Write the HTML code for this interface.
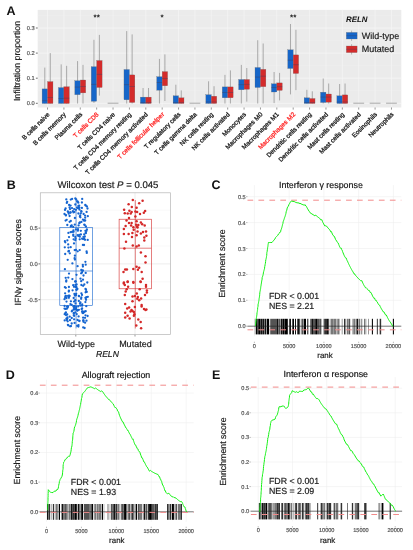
<!DOCTYPE html>
<html><head><meta charset="utf-8"><style>
html,body{margin:0;padding:0;background:#fff;}
svg{display:block;will-change:transform;text-rendering:geometricPrecision;}
text{font-family:"Liberation Sans", sans-serif;font-variant-ligatures:none;font-feature-settings:"liga" 0;}
</style></head><body>
<svg width="413" height="550" viewBox="0 0 413 550" style='font-family:"Liberation Sans", sans-serif'>
<rect x="37.7" y="9.9" width="363.60" height="97.60" fill="#ebebeb"/>
<line x1="37.7" x2="401.3" y1="90.75" y2="90.75" stroke="#f1f1f1" stroke-width="0.5"/>
<line x1="37.7" x2="401.3" y1="65.65" y2="65.65" stroke="#f1f1f1" stroke-width="0.5"/>
<line x1="37.7" x2="401.3" y1="40.55" y2="40.55" stroke="#f1f1f1" stroke-width="0.5"/>
<line x1="37.7" x2="401.3" y1="15.45" y2="15.45" stroke="#f1f1f1" stroke-width="0.5"/>
<line x1="37.7" x2="401.3" y1="103.30" y2="103.30" stroke="#f8f8f8" stroke-width="0.7"/>
<line x1="37.7" x2="401.3" y1="78.20" y2="78.20" stroke="#f8f8f8" stroke-width="0.7"/>
<line x1="37.7" x2="401.3" y1="53.10" y2="53.10" stroke="#f8f8f8" stroke-width="0.7"/>
<line x1="37.7" x2="401.3" y1="28.00" y2="28.00" stroke="#f8f8f8" stroke-width="0.7"/>
<line x1="47.53" x2="47.53" y1="9.9" y2="107.5" stroke="#f6f6f6" stroke-width="0.6"/>
<line x1="63.91" x2="63.91" y1="9.9" y2="107.5" stroke="#f6f6f6" stroke-width="0.6"/>
<line x1="80.28" x2="80.28" y1="9.9" y2="107.5" stroke="#f6f6f6" stroke-width="0.6"/>
<line x1="96.66" x2="96.66" y1="9.9" y2="107.5" stroke="#f6f6f6" stroke-width="0.6"/>
<line x1="113.04" x2="113.04" y1="9.9" y2="107.5" stroke="#f6f6f6" stroke-width="0.6"/>
<line x1="129.42" x2="129.42" y1="9.9" y2="107.5" stroke="#f6f6f6" stroke-width="0.6"/>
<line x1="145.80" x2="145.80" y1="9.9" y2="107.5" stroke="#f6f6f6" stroke-width="0.6"/>
<line x1="162.18" x2="162.18" y1="9.9" y2="107.5" stroke="#f6f6f6" stroke-width="0.6"/>
<line x1="178.55" x2="178.55" y1="9.9" y2="107.5" stroke="#f6f6f6" stroke-width="0.6"/>
<line x1="194.93" x2="194.93" y1="9.9" y2="107.5" stroke="#f6f6f6" stroke-width="0.6"/>
<line x1="211.31" x2="211.31" y1="9.9" y2="107.5" stroke="#f6f6f6" stroke-width="0.6"/>
<line x1="227.69" x2="227.69" y1="9.9" y2="107.5" stroke="#f6f6f6" stroke-width="0.6"/>
<line x1="244.07" x2="244.07" y1="9.9" y2="107.5" stroke="#f6f6f6" stroke-width="0.6"/>
<line x1="260.45" x2="260.45" y1="9.9" y2="107.5" stroke="#f6f6f6" stroke-width="0.6"/>
<line x1="276.82" x2="276.82" y1="9.9" y2="107.5" stroke="#f6f6f6" stroke-width="0.6"/>
<line x1="293.20" x2="293.20" y1="9.9" y2="107.5" stroke="#f6f6f6" stroke-width="0.6"/>
<line x1="309.58" x2="309.58" y1="9.9" y2="107.5" stroke="#f6f6f6" stroke-width="0.6"/>
<line x1="325.96" x2="325.96" y1="9.9" y2="107.5" stroke="#f6f6f6" stroke-width="0.6"/>
<line x1="342.34" x2="342.34" y1="9.9" y2="107.5" stroke="#f6f6f6" stroke-width="0.6"/>
<line x1="358.72" x2="358.72" y1="9.9" y2="107.5" stroke="#f6f6f6" stroke-width="0.6"/>
<line x1="375.09" x2="375.09" y1="9.9" y2="107.5" stroke="#f6f6f6" stroke-width="0.6"/>
<line x1="391.47" x2="391.47" y1="9.9" y2="107.5" stroke="#f6f6f6" stroke-width="0.6"/>
<line x1="35.9" x2="37.7" y1="103.30" y2="103.30" stroke="#333" stroke-width="0.7"/>
<text x="34.7" y="105.30" font-size="5.7" fill="#555555" text-anchor="end" stroke="#555555" stroke-width="0.18">0.0</text>
<line x1="35.9" x2="37.7" y1="78.20" y2="78.20" stroke="#333" stroke-width="0.7"/>
<text x="34.7" y="80.20" font-size="5.7" fill="#555555" text-anchor="end" stroke="#555555" stroke-width="0.18">0.1</text>
<line x1="35.9" x2="37.7" y1="53.10" y2="53.10" stroke="#333" stroke-width="0.7"/>
<text x="34.7" y="55.10" font-size="5.7" fill="#555555" text-anchor="end" stroke="#555555" stroke-width="0.18">0.2</text>
<line x1="35.9" x2="37.7" y1="28.00" y2="28.00" stroke="#333" stroke-width="0.7"/>
<text x="34.7" y="30.00" font-size="5.7" fill="#555555" text-anchor="end" stroke="#555555" stroke-width="0.18">0.3</text>
<text transform="translate(20.4,61) rotate(-90)" font-size="8.8" fill="#1a1a1a" text-anchor="middle" stroke="#1a1a1a" stroke-width="0.18">Infiltration proportion</text>
<line x1="44.80" x2="44.80" y1="67.6" y2="103.5" stroke="#8c8c8c" stroke-width="0.7"/>
<rect x="42.08" y="88.9" width="5.45" height="14.60" fill="#1666c9" stroke="#6a6a6a" stroke-width="0.25"/>
<line x1="42.08" x2="47.53" y1="100.7" y2="100.7" stroke="#404060" stroke-opacity="0.6" stroke-width="0.7"/>
<line x1="50.25" x2="50.25" y1="53.1" y2="103.5" stroke="#8c8c8c" stroke-width="0.7"/>
<rect x="47.53" y="81.6" width="5.45" height="21.90" fill="#d42b2b" stroke="#6a6a6a" stroke-width="0.25"/>
<line x1="47.53" x2="52.98" y1="97.5" y2="97.5" stroke="#404060" stroke-opacity="0.6" stroke-width="0.7"/>
<line x1="61.18" x2="61.18" y1="64.4" y2="103.5" stroke="#8c8c8c" stroke-width="0.7"/>
<rect x="58.46" y="87.6" width="5.45" height="15.90" fill="#1666c9" stroke="#6a6a6a" stroke-width="0.25"/>
<line x1="58.46" x2="63.91" y1="98.5" y2="98.5" stroke="#404060" stroke-opacity="0.6" stroke-width="0.7"/>
<line x1="66.63" x2="66.63" y1="65.8" y2="103.5" stroke="#8c8c8c" stroke-width="0.7"/>
<rect x="63.91" y="86.7" width="5.45" height="16.80" fill="#d42b2b" stroke="#6a6a6a" stroke-width="0.25"/>
<line x1="63.91" x2="69.36" y1="98.2" y2="98.2" stroke="#404060" stroke-opacity="0.6" stroke-width="0.7"/>
<line x1="77.56" x2="77.56" y1="61.1" y2="103.5" stroke="#8c8c8c" stroke-width="0.7"/>
<rect x="74.83" y="80.7" width="5.45" height="14.00" fill="#1666c9" stroke="#6a6a6a" stroke-width="0.25"/>
<line x1="74.83" x2="80.28" y1="87.1" y2="87.1" stroke="#404060" stroke-opacity="0.6" stroke-width="0.7"/>
<line x1="83.01" x2="83.01" y1="64.9" y2="103.5" stroke="#8c8c8c" stroke-width="0.7"/>
<rect x="80.28" y="80.0" width="5.45" height="12.90" fill="#d42b2b" stroke="#6a6a6a" stroke-width="0.25"/>
<line x1="80.28" x2="85.73" y1="86.5" y2="86.5" stroke="#404060" stroke-opacity="0.6" stroke-width="0.7"/>
<line x1="93.94" x2="93.94" y1="39.8" y2="102.9" stroke="#8c8c8c" stroke-width="0.7"/>
<rect x="91.21" y="66.7" width="5.45" height="34.60" fill="#1666c9" stroke="#6a6a6a" stroke-width="0.25"/>
<line x1="91.21" x2="96.66" y1="84.4" y2="84.4" stroke="#404060" stroke-opacity="0.6" stroke-width="0.7"/>
<line x1="99.39" x2="99.39" y1="34.9" y2="95.6" stroke="#8c8c8c" stroke-width="0.7"/>
<rect x="96.66" y="60.5" width="5.45" height="27.00" fill="#d42b2b" stroke="#6a6a6a" stroke-width="0.25"/>
<line x1="96.66" x2="102.11" y1="74.4" y2="74.4" stroke="#404060" stroke-opacity="0.6" stroke-width="0.7"/>
<line x1="107.64" x2="118.44" y1="103.2" y2="103.2" stroke="#8a8a8a" stroke-width="0.7"/>
<line x1="126.69" x2="126.69" y1="31.1" y2="103.5" stroke="#8c8c8c" stroke-width="0.7"/>
<rect x="123.97" y="69.5" width="5.45" height="30.30" fill="#1666c9" stroke="#6a6a6a" stroke-width="0.25"/>
<line x1="123.97" x2="129.42" y1="84.7" y2="84.7" stroke="#404060" stroke-opacity="0.6" stroke-width="0.7"/>
<line x1="132.14" x2="132.14" y1="34.4" y2="103.5" stroke="#8c8c8c" stroke-width="0.7"/>
<rect x="129.42" y="74.9" width="5.45" height="27.60" fill="#d42b2b" stroke="#6a6a6a" stroke-width="0.25"/>
<line x1="129.42" x2="134.87" y1="86.5" y2="86.5" stroke="#404060" stroke-opacity="0.6" stroke-width="0.7"/>
<line x1="143.07" x2="143.07" y1="88" y2="103.5" stroke="#8c8c8c" stroke-width="0.7"/>
<rect x="140.35" y="97.1" width="5.45" height="6.40" fill="#1666c9" stroke="#6a6a6a" stroke-width="0.25"/>
<line x1="140.35" x2="145.80" y1="102.5" y2="102.5" stroke="#404060" stroke-opacity="0.6" stroke-width="0.7"/>
<line x1="148.52" x2="148.52" y1="88" y2="103.5" stroke="#8c8c8c" stroke-width="0.7"/>
<rect x="145.80" y="97.1" width="5.45" height="6.40" fill="#d42b2b" stroke="#6a6a6a" stroke-width="0.25"/>
<line x1="145.80" x2="151.25" y1="102.5" y2="102.5" stroke="#404060" stroke-opacity="0.6" stroke-width="0.7"/>
<line x1="159.45" x2="159.45" y1="58.9" y2="103.5" stroke="#8c8c8c" stroke-width="0.7"/>
<rect x="156.73" y="76.7" width="5.45" height="13.50" fill="#1666c9" stroke="#6a6a6a" stroke-width="0.25"/>
<line x1="156.73" x2="162.18" y1="82.5" y2="82.5" stroke="#404060" stroke-opacity="0.6" stroke-width="0.7"/>
<line x1="164.90" x2="164.90" y1="54.4" y2="101" stroke="#8c8c8c" stroke-width="0.7"/>
<rect x="162.18" y="71.6" width="5.45" height="14.20" fill="#d42b2b" stroke="#6a6a6a" stroke-width="0.25"/>
<line x1="162.18" x2="167.63" y1="78.5" y2="78.5" stroke="#404060" stroke-opacity="0.6" stroke-width="0.7"/>
<line x1="175.83" x2="175.83" y1="84.7" y2="103.5" stroke="#8c8c8c" stroke-width="0.7"/>
<rect x="173.10" y="95.8" width="5.45" height="7.70" fill="#1666c9" stroke="#6a6a6a" stroke-width="0.25"/>
<line x1="173.10" x2="178.55" y1="102.5" y2="102.5" stroke="#404060" stroke-opacity="0.6" stroke-width="0.7"/>
<line x1="181.28" x2="181.28" y1="90.4" y2="103.5" stroke="#8c8c8c" stroke-width="0.7"/>
<rect x="178.55" y="97.8" width="5.45" height="5.70" fill="#d42b2b" stroke="#6a6a6a" stroke-width="0.25"/>
<line x1="178.55" x2="184.00" y1="102.5" y2="102.5" stroke="#404060" stroke-opacity="0.6" stroke-width="0.7"/>
<line x1="189.53" x2="200.33" y1="103.2" y2="103.2" stroke="#8a8a8a" stroke-width="0.7"/>
<line x1="208.59" x2="208.59" y1="81.3" y2="103.5" stroke="#8c8c8c" stroke-width="0.7"/>
<rect x="205.86" y="94.7" width="5.45" height="8.80" fill="#1666c9" stroke="#6a6a6a" stroke-width="0.25"/>
<line x1="205.86" x2="211.31" y1="102" y2="102" stroke="#404060" stroke-opacity="0.6" stroke-width="0.7"/>
<line x1="214.04" x2="214.04" y1="86.2" y2="103.5" stroke="#8c8c8c" stroke-width="0.7"/>
<rect x="211.31" y="96.2" width="5.45" height="7.30" fill="#d42b2b" stroke="#6a6a6a" stroke-width="0.25"/>
<line x1="211.31" x2="216.76" y1="102" y2="102" stroke="#404060" stroke-opacity="0.6" stroke-width="0.7"/>
<line x1="224.96" x2="224.96" y1="74.9" y2="103.5" stroke="#8c8c8c" stroke-width="0.7"/>
<rect x="222.24" y="86.9" width="5.45" height="10.90" fill="#1666c9" stroke="#6a6a6a" stroke-width="0.25"/>
<line x1="222.24" x2="227.69" y1="92.5" y2="92.5" stroke="#404060" stroke-opacity="0.6" stroke-width="0.7"/>
<line x1="230.41" x2="230.41" y1="70.4" y2="103.5" stroke="#8c8c8c" stroke-width="0.7"/>
<rect x="227.69" y="86.9" width="5.45" height="10.90" fill="#d42b2b" stroke="#6a6a6a" stroke-width="0.25"/>
<line x1="227.69" x2="233.14" y1="92.5" y2="92.5" stroke="#404060" stroke-opacity="0.6" stroke-width="0.7"/>
<line x1="241.34" x2="241.34" y1="64.9" y2="103.5" stroke="#8c8c8c" stroke-width="0.7"/>
<rect x="238.62" y="79.5" width="5.45" height="10.30" fill="#1666c9" stroke="#6a6a6a" stroke-width="0.25"/>
<line x1="238.62" x2="244.07" y1="84.7" y2="84.7" stroke="#404060" stroke-opacity="0.6" stroke-width="0.7"/>
<line x1="246.79" x2="246.79" y1="68" y2="101.6" stroke="#8c8c8c" stroke-width="0.7"/>
<rect x="244.07" y="79.5" width="5.45" height="9.80" fill="#d42b2b" stroke="#6a6a6a" stroke-width="0.25"/>
<line x1="244.07" x2="249.52" y1="84.4" y2="84.4" stroke="#404060" stroke-opacity="0.6" stroke-width="0.7"/>
<line x1="257.72" x2="257.72" y1="40.2" y2="103.5" stroke="#8c8c8c" stroke-width="0.7"/>
<rect x="255.00" y="67.5" width="5.45" height="20.00" fill="#1666c9" stroke="#6a6a6a" stroke-width="0.25"/>
<line x1="255.00" x2="260.45" y1="77.1" y2="77.1" stroke="#404060" stroke-opacity="0.6" stroke-width="0.7"/>
<line x1="263.17" x2="263.17" y1="43.5" y2="103.5" stroke="#8c8c8c" stroke-width="0.7"/>
<rect x="260.45" y="69.3" width="5.45" height="17.40" fill="#d42b2b" stroke="#6a6a6a" stroke-width="0.25"/>
<line x1="260.45" x2="265.90" y1="76.2" y2="76.2" stroke="#404060" stroke-opacity="0.6" stroke-width="0.7"/>
<line x1="274.10" x2="274.10" y1="72" y2="103.1" stroke="#8c8c8c" stroke-width="0.7"/>
<rect x="271.37" y="83.8" width="5.45" height="8.20" fill="#1666c9" stroke="#6a6a6a" stroke-width="0.25"/>
<line x1="271.37" x2="276.82" y1="87.5" y2="87.5" stroke="#404060" stroke-opacity="0.6" stroke-width="0.7"/>
<line x1="279.55" x2="279.55" y1="72.9" y2="100.4" stroke="#8c8c8c" stroke-width="0.7"/>
<rect x="276.82" y="82.9" width="5.45" height="7.50" fill="#d42b2b" stroke="#6a6a6a" stroke-width="0.25"/>
<line x1="276.82" x2="282.27" y1="86.7" y2="86.7" stroke="#404060" stroke-opacity="0.6" stroke-width="0.7"/>
<line x1="290.48" x2="290.48" y1="24" y2="94.4" stroke="#8c8c8c" stroke-width="0.7"/>
<rect x="287.75" y="49.8" width="5.45" height="18.70" fill="#1666c9" stroke="#6a6a6a" stroke-width="0.25"/>
<line x1="287.75" x2="293.20" y1="60.2" y2="60.2" stroke="#404060" stroke-opacity="0.6" stroke-width="0.7"/>
<line x1="295.93" x2="295.93" y1="29.8" y2="90.2" stroke="#8c8c8c" stroke-width="0.7"/>
<rect x="293.20" y="54.9" width="5.45" height="18.60" fill="#d42b2b" stroke="#6a6a6a" stroke-width="0.25"/>
<line x1="293.20" x2="298.65" y1="64.7" y2="64.7" stroke="#404060" stroke-opacity="0.6" stroke-width="0.7"/>
<line x1="306.86" x2="306.86" y1="89.8" y2="103.5" stroke="#8c8c8c" stroke-width="0.7"/>
<rect x="304.13" y="97.8" width="5.45" height="5.70" fill="#1666c9" stroke="#6a6a6a" stroke-width="0.25"/>
<line x1="304.13" x2="309.58" y1="102.5" y2="102.5" stroke="#404060" stroke-opacity="0.6" stroke-width="0.7"/>
<line x1="312.31" x2="312.31" y1="91.3" y2="103.5" stroke="#8c8c8c" stroke-width="0.7"/>
<rect x="309.58" y="98.5" width="5.45" height="5.00" fill="#d42b2b" stroke="#6a6a6a" stroke-width="0.25"/>
<line x1="309.58" x2="315.03" y1="102.5" y2="102.5" stroke="#404060" stroke-opacity="0.6" stroke-width="0.7"/>
<line x1="323.23" x2="323.23" y1="78.5" y2="103.5" stroke="#8c8c8c" stroke-width="0.7"/>
<rect x="320.51" y="92.2" width="5.45" height="10.30" fill="#1666c9" stroke="#6a6a6a" stroke-width="0.25"/>
<line x1="320.51" x2="325.96" y1="97.1" y2="97.1" stroke="#404060" stroke-opacity="0.6" stroke-width="0.7"/>
<line x1="328.68" x2="328.68" y1="83.5" y2="103.5" stroke="#8c8c8c" stroke-width="0.7"/>
<rect x="325.96" y="94" width="5.45" height="8.20" fill="#d42b2b" stroke="#6a6a6a" stroke-width="0.25"/>
<line x1="325.96" x2="331.41" y1="97.1" y2="97.1" stroke="#404060" stroke-opacity="0.6" stroke-width="0.7"/>
<line x1="339.61" x2="339.61" y1="84" y2="103.5" stroke="#8c8c8c" stroke-width="0.7"/>
<rect x="336.89" y="95.8" width="5.45" height="7.70" fill="#1666c9" stroke="#6a6a6a" stroke-width="0.25"/>
<line x1="336.89" x2="342.34" y1="102" y2="102" stroke="#404060" stroke-opacity="0.6" stroke-width="0.7"/>
<line x1="345.06" x2="345.06" y1="83.5" y2="103.5" stroke="#8c8c8c" stroke-width="0.7"/>
<rect x="342.34" y="94.9" width="5.45" height="8.60" fill="#d42b2b" stroke="#6a6a6a" stroke-width="0.25"/>
<line x1="342.34" x2="347.79" y1="102" y2="102" stroke="#404060" stroke-opacity="0.6" stroke-width="0.7"/>
<line x1="353.32" x2="364.12" y1="103.2" y2="103.2" stroke="#8a8a8a" stroke-width="0.7"/>
<line x1="369.69" x2="380.49" y1="103.2" y2="103.2" stroke="#8a8a8a" stroke-width="0.7"/>
<line x1="386.07" x2="396.87" y1="103.2" y2="103.2" stroke="#8a8a8a" stroke-width="0.7"/>
<text x="96.66" y="20.3" font-size="8" font-weight="bold" fill="#1a1a1a" text-anchor="middle">**</text>
<text x="162.18" y="20.3" font-size="8" font-weight="bold" fill="#1a1a1a" text-anchor="middle">*</text>
<text x="293.20" y="20.3" font-size="8" font-weight="bold" fill="#1a1a1a" text-anchor="middle">**</text>
<text x="346.0" y="21.8" font-size="7.9" font-weight="bold" font-style="italic" fill="#111">RELN</text>
<line x1="351.6" x2="351.6" y1="30.599999999999998" y2="40.9" stroke="#8c8c8c" stroke-width="0.6"/>
<rect x="346.3" y="32.4" width="10.8" height="6.6" fill="#1666c9" stroke="#6a6a6a" stroke-width="0.25"/>
<line x1="346.3" x2="357.1" y1="35.699999999999996" y2="35.699999999999996" stroke="#404060" stroke-opacity="0.6" stroke-width="0.6"/>
<text x="361.7" y="38.60" font-size="9" fill="#1a1a1a" stroke="#1a1a1a" stroke-width="0.18">Wild-type</text>
<line x1="351.6" x2="351.6" y1="44.2" y2="54.5" stroke="#8c8c8c" stroke-width="0.6"/>
<rect x="346.3" y="46.0" width="10.8" height="6.6" fill="#d42b2b" stroke="#6a6a6a" stroke-width="0.25"/>
<line x1="346.3" x2="357.1" y1="49.3" y2="49.3" stroke="#404060" stroke-opacity="0.6" stroke-width="0.6"/>
<text x="361.7" y="52.20" font-size="9" fill="#1a1a1a" stroke="#1a1a1a" stroke-width="0.18">Mutated</text>
<line x1="47.53" x2="47.53" y1="107.5" y2="109.6" stroke="#333" stroke-width="0.5"/>
<text transform="translate(46.73,111.6) rotate(-45)" font-size="6.4" fill="#1a1a1a" stroke="#1a1a1a" stroke-width="0.28" text-anchor="end" dy="4.6">B cells naive</text>
<line x1="63.91" x2="63.91" y1="107.5" y2="109.6" stroke="#333" stroke-width="0.5"/>
<text transform="translate(63.11,111.6) rotate(-45)" font-size="6.4" fill="#1a1a1a" stroke="#1a1a1a" stroke-width="0.28" text-anchor="end" dy="4.6">B cells memory</text>
<line x1="80.28" x2="80.28" y1="107.5" y2="109.6" stroke="#333" stroke-width="0.5"/>
<text transform="translate(79.48,111.6) rotate(-45)" font-size="6.4" fill="#1a1a1a" stroke="#1a1a1a" stroke-width="0.28" text-anchor="end" dy="4.6">Plasma cells</text>
<line x1="96.66" x2="96.66" y1="107.5" y2="109.6" stroke="#333" stroke-width="0.5"/>
<text transform="translate(95.86,111.6) rotate(-45)" font-size="6.4" fill="#ff2a2a" stroke="#ff2a2a" stroke-width="0.28" text-anchor="end" dy="4.6">T cells CD8</text>
<line x1="113.04" x2="113.04" y1="107.5" y2="109.6" stroke="#333" stroke-width="0.5"/>
<text transform="translate(112.24,111.6) rotate(-45)" font-size="6.4" fill="#1a1a1a" stroke="#1a1a1a" stroke-width="0.28" text-anchor="end" dy="4.6">T cells CD4 naive</text>
<line x1="129.42" x2="129.42" y1="107.5" y2="109.6" stroke="#333" stroke-width="0.5"/>
<text transform="translate(128.62,111.6) rotate(-45)" font-size="6.4" fill="#1a1a1a" stroke="#1a1a1a" stroke-width="0.28" text-anchor="end" dy="4.6">T cells CD4 memory resting</text>
<line x1="145.80" x2="145.80" y1="107.5" y2="109.6" stroke="#333" stroke-width="0.5"/>
<text transform="translate(145.00,111.6) rotate(-45)" font-size="6.4" fill="#1a1a1a" stroke="#1a1a1a" stroke-width="0.28" text-anchor="end" dy="4.6">T cells CD4 memory activated</text>
<line x1="162.18" x2="162.18" y1="107.5" y2="109.6" stroke="#333" stroke-width="0.5"/>
<text transform="translate(161.38,111.6) rotate(-45)" font-size="6.4" fill="#ff2a2a" stroke="#ff2a2a" stroke-width="0.28" text-anchor="end" dy="4.6">T cells follicular helper</text>
<line x1="178.55" x2="178.55" y1="107.5" y2="109.6" stroke="#333" stroke-width="0.5"/>
<text transform="translate(177.75,111.6) rotate(-45)" font-size="6.4" fill="#1a1a1a" stroke="#1a1a1a" stroke-width="0.28" text-anchor="end" dy="4.6">T regulatory cells</text>
<line x1="194.93" x2="194.93" y1="107.5" y2="109.6" stroke="#333" stroke-width="0.5"/>
<text transform="translate(194.13,111.6) rotate(-45)" font-size="6.4" fill="#1a1a1a" stroke="#1a1a1a" stroke-width="0.28" text-anchor="end" dy="4.6">T cells gamma delta</text>
<line x1="211.31" x2="211.31" y1="107.5" y2="109.6" stroke="#333" stroke-width="0.5"/>
<text transform="translate(210.51,111.6) rotate(-45)" font-size="6.4" fill="#1a1a1a" stroke="#1a1a1a" stroke-width="0.28" text-anchor="end" dy="4.6">NK cells resting</text>
<line x1="227.69" x2="227.69" y1="107.5" y2="109.6" stroke="#333" stroke-width="0.5"/>
<text transform="translate(226.89,111.6) rotate(-45)" font-size="6.4" fill="#1a1a1a" stroke="#1a1a1a" stroke-width="0.28" text-anchor="end" dy="4.6">NK cells activated</text>
<line x1="244.07" x2="244.07" y1="107.5" y2="109.6" stroke="#333" stroke-width="0.5"/>
<text transform="translate(243.27,111.6) rotate(-45)" font-size="6.4" fill="#1a1a1a" stroke="#1a1a1a" stroke-width="0.28" text-anchor="end" dy="4.6">Monocytes</text>
<line x1="260.45" x2="260.45" y1="107.5" y2="109.6" stroke="#333" stroke-width="0.5"/>
<text transform="translate(259.65,111.6) rotate(-45)" font-size="6.4" fill="#1a1a1a" stroke="#1a1a1a" stroke-width="0.28" text-anchor="end" dy="4.6">Macrophages M0</text>
<line x1="276.82" x2="276.82" y1="107.5" y2="109.6" stroke="#333" stroke-width="0.5"/>
<text transform="translate(276.02,111.6) rotate(-45)" font-size="6.4" fill="#1a1a1a" stroke="#1a1a1a" stroke-width="0.28" text-anchor="end" dy="4.6">Macrophages M1</text>
<line x1="293.20" x2="293.20" y1="107.5" y2="109.6" stroke="#333" stroke-width="0.5"/>
<text transform="translate(292.40,111.6) rotate(-45)" font-size="6.4" fill="#ff2a2a" stroke="#ff2a2a" stroke-width="0.28" text-anchor="end" dy="4.6">Macrophages M2</text>
<line x1="309.58" x2="309.58" y1="107.5" y2="109.6" stroke="#333" stroke-width="0.5"/>
<text transform="translate(308.78,111.6) rotate(-45)" font-size="6.4" fill="#1a1a1a" stroke="#1a1a1a" stroke-width="0.28" text-anchor="end" dy="4.6">Dendritic cells resting</text>
<line x1="325.96" x2="325.96" y1="107.5" y2="109.6" stroke="#333" stroke-width="0.5"/>
<text transform="translate(325.16,111.6) rotate(-45)" font-size="6.4" fill="#1a1a1a" stroke="#1a1a1a" stroke-width="0.28" text-anchor="end" dy="4.6">Dendritic cells activated</text>
<line x1="342.34" x2="342.34" y1="107.5" y2="109.6" stroke="#333" stroke-width="0.5"/>
<text transform="translate(341.54,111.6) rotate(-45)" font-size="6.4" fill="#1a1a1a" stroke="#1a1a1a" stroke-width="0.28" text-anchor="end" dy="4.6">Mast cells resting</text>
<line x1="358.72" x2="358.72" y1="107.5" y2="109.6" stroke="#333" stroke-width="0.5"/>
<text transform="translate(357.92,111.6) rotate(-45)" font-size="6.4" fill="#1a1a1a" stroke="#1a1a1a" stroke-width="0.28" text-anchor="end" dy="4.6">Mast cells activated</text>
<line x1="375.09" x2="375.09" y1="107.5" y2="109.6" stroke="#333" stroke-width="0.5"/>
<text transform="translate(374.29,111.6) rotate(-45)" font-size="6.4" fill="#1a1a1a" stroke="#1a1a1a" stroke-width="0.28" text-anchor="end" dy="4.6">Eosinophils</text>
<line x1="391.47" x2="391.47" y1="107.5" y2="109.6" stroke="#333" stroke-width="0.5"/>
<text transform="translate(390.67,111.6) rotate(-45)" font-size="6.4" fill="#1a1a1a" stroke="#1a1a1a" stroke-width="0.28" text-anchor="end" dy="4.6">Neutrophils</text>
<text x="6.8" y="189.2" font-size="12.5" font-weight="bold" fill="#111">B</text>
<text x="57.4" y="188.1" font-size="9.6" fill="#1a1a1a" stroke="#1a1a1a" stroke-width="0.18">Wilcoxon test <tspan font-style="italic">P</tspan> = 0.045</text>
<rect x="40.3" y="192.8" width="130.20" height="141.80" fill="#fff"/>
<line x1="40.3" x2="170.5" y1="210.20" y2="210.20" stroke="#f2f2f2" stroke-width="0.5"/>
<line x1="40.3" x2="170.5" y1="246.00" y2="246.00" stroke="#f2f2f2" stroke-width="0.5"/>
<line x1="40.3" x2="170.5" y1="281.80" y2="281.80" stroke="#f2f2f2" stroke-width="0.5"/>
<line x1="40.3" x2="170.5" y1="317.60" y2="317.60" stroke="#f2f2f2" stroke-width="0.5"/>
<line x1="40.3" x2="170.5" y1="228.10" y2="228.10" stroke="#ebebeb" stroke-width="0.9"/>
<line x1="40.3" x2="170.5" y1="263.90" y2="263.90" stroke="#ebebeb" stroke-width="0.9"/>
<line x1="40.3" x2="170.5" y1="299.70" y2="299.70" stroke="#ebebeb" stroke-width="0.9"/>
<line x1="75.8" x2="75.8" y1="192.8" y2="334.6" stroke="#ebebeb" stroke-width="0.9"/>
<line x1="135.0" x2="135.0" y1="192.8" y2="334.6" stroke="#ebebeb" stroke-width="0.9"/>
<line x1="38.5" x2="40.3" y1="228.10" y2="228.10" stroke="#333" stroke-width="0.7"/>
<text x="37.7" y="230.10" font-size="5.8" fill="#555555" text-anchor="end" stroke="#555555" stroke-width="0.18">0.5</text>
<line x1="38.5" x2="40.3" y1="263.90" y2="263.90" stroke="#333" stroke-width="0.7"/>
<text x="37.7" y="265.90" font-size="5.8" fill="#555555" text-anchor="end" stroke="#555555" stroke-width="0.18">0.0</text>
<line x1="38.5" x2="40.3" y1="299.70" y2="299.70" stroke="#333" stroke-width="0.7"/>
<text x="37.7" y="301.70" font-size="5.8" fill="#555555" text-anchor="end" stroke="#555555" stroke-width="0.18">-0.5</text>
<line x1="75.8" x2="75.8" y1="334.6" y2="336.5" stroke="#333" stroke-width="0.5"/>
<line x1="135.0" x2="135.0" y1="334.6" y2="336.5" stroke="#333" stroke-width="0.5"/>
<text x="76.2" y="346.6" font-size="9" fill="#1a1a1a" text-anchor="middle" stroke="#1a1a1a" stroke-width="0.18">Wild-type</text>
<text x="135.4" y="346.6" font-size="9" fill="#1a1a1a" text-anchor="middle" stroke="#1a1a1a" stroke-width="0.18">Mutated</text>
<text x="107.4" y="356.7" font-size="8.6" font-style="italic" fill="#1a1a1a" text-anchor="middle" stroke="#1a1a1a" stroke-width="0.18">RELN</text>
<text transform="translate(20.6,262.3) rotate(-90)" font-size="8.9" fill="#1a1a1a" text-anchor="middle" stroke="#1a1a1a" stroke-width="0.18">IFNγ signature scores</text>
<line x1="76.1" x2="76.1" y1="198.6" y2="328.4" stroke="#1565d0" stroke-width="0.6"/>
<rect x="59.8" y="227.6" width="32.8" height="77.80" fill="none" stroke="#1565d0" stroke-width="0.6"/>
<line x1="59.8" x2="92.6" y1="271" y2="271" stroke="#1565d0" stroke-width="0.6"/>
<line x1="135.3" x2="135.3" y1="200.0" y2="328.5" stroke="#d42828" stroke-width="0.6"/>
<rect x="119.1" y="219.2" width="32.2" height="69.60" fill="none" stroke="#d42828" stroke-width="0.6"/>
<line x1="119.1" x2="151.3" y1="248.2" y2="248.2" stroke="#d42828" stroke-width="0.6"/>
<circle cx="77.2" cy="201.3" r="1.15" fill="#1565d0"/>
<circle cx="75.3" cy="204.5" r="1.15" fill="#1565d0"/>
<circle cx="77.7" cy="201.7" r="1.15" fill="#1565d0"/>
<circle cx="76.2" cy="199.5" r="1.15" fill="#1565d0"/>
<circle cx="81.9" cy="202.5" r="1.15" fill="#1565d0"/>
<circle cx="72.1" cy="198.9" r="1.15" fill="#1565d0"/>
<circle cx="82.2" cy="198.9" r="1.15" fill="#1565d0"/>
<circle cx="66.8" cy="202.9" r="1.15" fill="#1565d0"/>
<circle cx="85.3" cy="204.9" r="1.15" fill="#1565d0"/>
<circle cx="78.3" cy="202.7" r="1.15" fill="#1565d0"/>
<circle cx="66.3" cy="199.4" r="1.15" fill="#1565d0"/>
<circle cx="67.2" cy="201.8" r="1.15" fill="#1565d0"/>
<circle cx="70.8" cy="199.6" r="1.15" fill="#1565d0"/>
<circle cx="75.3" cy="198.5" r="1.15" fill="#1565d0"/>
<circle cx="84.1" cy="220.4" r="1.15" fill="#1565d0"/>
<circle cx="79.3" cy="223.2" r="1.15" fill="#1565d0"/>
<circle cx="79.8" cy="222.5" r="1.15" fill="#1565d0"/>
<circle cx="70.8" cy="221.0" r="1.15" fill="#1565d0"/>
<circle cx="87.7" cy="239.9" r="1.15" fill="#1565d0"/>
<circle cx="80.9" cy="234.4" r="1.15" fill="#1565d0"/>
<circle cx="69.6" cy="216.0" r="1.15" fill="#1565d0"/>
<circle cx="65.9" cy="215.1" r="1.15" fill="#1565d0"/>
<circle cx="73.6" cy="231.8" r="1.15" fill="#1565d0"/>
<circle cx="73.3" cy="234.6" r="1.15" fill="#1565d0"/>
<circle cx="84.2" cy="238.5" r="1.15" fill="#1565d0"/>
<circle cx="69.1" cy="205.0" r="1.15" fill="#1565d0"/>
<circle cx="75.3" cy="236.9" r="1.15" fill="#1565d0"/>
<circle cx="73.6" cy="239.3" r="1.15" fill="#1565d0"/>
<circle cx="79.1" cy="207.6" r="1.15" fill="#1565d0"/>
<circle cx="70.6" cy="232.2" r="1.15" fill="#1565d0"/>
<circle cx="72.0" cy="208.1" r="1.15" fill="#1565d0"/>
<circle cx="82.1" cy="238.7" r="1.15" fill="#1565d0"/>
<circle cx="70.0" cy="209.1" r="1.15" fill="#1565d0"/>
<circle cx="65.6" cy="208.5" r="1.15" fill="#1565d0"/>
<circle cx="68.4" cy="232.9" r="1.15" fill="#1565d0"/>
<circle cx="74.8" cy="224.6" r="1.15" fill="#1565d0"/>
<circle cx="81.5" cy="211.7" r="1.15" fill="#1565d0"/>
<circle cx="79.4" cy="209.6" r="1.15" fill="#1565d0"/>
<circle cx="74.1" cy="209.1" r="1.15" fill="#1565d0"/>
<circle cx="70.6" cy="212.5" r="1.15" fill="#1565d0"/>
<circle cx="83.2" cy="239.0" r="1.15" fill="#1565d0"/>
<circle cx="85.1" cy="215.6" r="1.15" fill="#1565d0"/>
<circle cx="73.5" cy="212.4" r="1.15" fill="#1565d0"/>
<circle cx="79.3" cy="234.9" r="1.15" fill="#1565d0"/>
<circle cx="87.5" cy="208.5" r="1.15" fill="#1565d0"/>
<circle cx="70.3" cy="212.5" r="1.15" fill="#1565d0"/>
<circle cx="72.0" cy="232.0" r="1.15" fill="#1565d0"/>
<circle cx="65.9" cy="215.4" r="1.15" fill="#1565d0"/>
<circle cx="78.0" cy="208.2" r="1.15" fill="#1565d0"/>
<circle cx="78.4" cy="213.5" r="1.15" fill="#1565d0"/>
<circle cx="74.9" cy="218.0" r="1.15" fill="#1565d0"/>
<circle cx="75.6" cy="238.6" r="1.15" fill="#1565d0"/>
<circle cx="84.7" cy="225.1" r="1.15" fill="#1565d0"/>
<circle cx="67.8" cy="211.4" r="1.15" fill="#1565d0"/>
<circle cx="83.5" cy="236.8" r="1.15" fill="#1565d0"/>
<circle cx="68.7" cy="213.7" r="1.15" fill="#1565d0"/>
<circle cx="86.4" cy="230.9" r="1.15" fill="#1565d0"/>
<circle cx="86.6" cy="211.9" r="1.15" fill="#1565d0"/>
<circle cx="78.4" cy="235.9" r="1.15" fill="#1565d0"/>
<circle cx="66.7" cy="219.8" r="1.15" fill="#1565d0"/>
<circle cx="86.9" cy="206.4" r="1.15" fill="#1565d0"/>
<circle cx="80.8" cy="213.3" r="1.15" fill="#1565d0"/>
<circle cx="83.6" cy="214.0" r="1.15" fill="#1565d0"/>
<circle cx="71.1" cy="225.9" r="1.15" fill="#1565d0"/>
<circle cx="81.2" cy="211.1" r="1.15" fill="#1565d0"/>
<circle cx="69.6" cy="207.4" r="1.15" fill="#1565d0"/>
<circle cx="84.3" cy="224.6" r="1.15" fill="#1565d0"/>
<circle cx="70.8" cy="226.5" r="1.15" fill="#1565d0"/>
<circle cx="69.0" cy="237.1" r="1.15" fill="#1565d0"/>
<circle cx="70.6" cy="205.6" r="1.15" fill="#1565d0"/>
<circle cx="65.6" cy="220.6" r="1.15" fill="#1565d0"/>
<circle cx="72.9" cy="211.2" r="1.15" fill="#1565d0"/>
<circle cx="67.3" cy="225.0" r="1.15" fill="#1565d0"/>
<circle cx="85.2" cy="217.7" r="1.15" fill="#1565d0"/>
<circle cx="79.7" cy="239.3" r="1.15" fill="#1565d0"/>
<circle cx="78.0" cy="229.2" r="1.15" fill="#1565d0"/>
<circle cx="65.0" cy="209.9" r="1.15" fill="#1565d0"/>
<circle cx="85.7" cy="205.6" r="1.15" fill="#1565d0"/>
<circle cx="86.9" cy="229.5" r="1.15" fill="#1565d0"/>
<circle cx="79.2" cy="205.7" r="1.15" fill="#1565d0"/>
<circle cx="81.4" cy="221.9" r="1.15" fill="#1565d0"/>
<circle cx="87.8" cy="216.2" r="1.15" fill="#1565d0"/>
<circle cx="77.1" cy="207.6" r="1.15" fill="#1565d0"/>
<circle cx="85.4" cy="230.8" r="1.15" fill="#1565d0"/>
<circle cx="80.8" cy="230.8" r="1.15" fill="#1565d0"/>
<circle cx="85.8" cy="232.8" r="1.15" fill="#1565d0"/>
<circle cx="80.4" cy="217.3" r="1.15" fill="#1565d0"/>
<circle cx="84.8" cy="236.5" r="1.15" fill="#1565d0"/>
<circle cx="82.9" cy="219.6" r="1.15" fill="#1565d0"/>
<circle cx="77.7" cy="235.2" r="1.15" fill="#1565d0"/>
<circle cx="73.2" cy="226.9" r="1.15" fill="#1565d0"/>
<circle cx="78.6" cy="225.4" r="1.15" fill="#1565d0"/>
<circle cx="79.3" cy="207.8" r="1.15" fill="#1565d0"/>
<circle cx="85.0" cy="239.8" r="1.15" fill="#1565d0"/>
<circle cx="73.4" cy="230.5" r="1.15" fill="#1565d0"/>
<circle cx="77.9" cy="230.7" r="1.15" fill="#1565d0"/>
<circle cx="84.0" cy="220.4" r="1.15" fill="#1565d0"/>
<circle cx="81.9" cy="207.9" r="1.15" fill="#1565d0"/>
<circle cx="78.4" cy="206.0" r="1.15" fill="#1565d0"/>
<circle cx="69.6" cy="221.8" r="1.15" fill="#1565d0"/>
<circle cx="75.9" cy="229.4" r="1.15" fill="#1565d0"/>
<circle cx="85.9" cy="226.5" r="1.15" fill="#1565d0"/>
<circle cx="64.5" cy="214.0" r="1.15" fill="#1565d0"/>
<circle cx="80.2" cy="215.5" r="1.15" fill="#1565d0"/>
<circle cx="68.2" cy="212.1" r="1.15" fill="#1565d0"/>
<circle cx="79.8" cy="236.7" r="1.15" fill="#1565d0"/>
<circle cx="85.2" cy="220.5" r="1.15" fill="#1565d0"/>
<circle cx="79.9" cy="216.4" r="1.15" fill="#1565d0"/>
<circle cx="74.4" cy="211.9" r="1.15" fill="#1565d0"/>
<circle cx="85.8" cy="233.2" r="1.15" fill="#1565d0"/>
<circle cx="73.3" cy="235.8" r="1.15" fill="#1565d0"/>
<circle cx="71.7" cy="225.4" r="1.15" fill="#1565d0"/>
<circle cx="75.9" cy="209.8" r="1.15" fill="#1565d0"/>
<circle cx="84.2" cy="234.3" r="1.15" fill="#1565d0"/>
<circle cx="86.6" cy="251.4" r="1.15" fill="#1565d0"/>
<circle cx="68.2" cy="244.4" r="1.15" fill="#1565d0"/>
<circle cx="70.7" cy="247.2" r="1.15" fill="#1565d0"/>
<circle cx="74.0" cy="243.4" r="1.15" fill="#1565d0"/>
<circle cx="75.9" cy="250.0" r="1.15" fill="#1565d0"/>
<circle cx="84.0" cy="245.0" r="1.15" fill="#1565d0"/>
<circle cx="74.9" cy="255.7" r="1.15" fill="#1565d0"/>
<circle cx="64.9" cy="241.2" r="1.15" fill="#1565d0"/>
<circle cx="65.2" cy="254.0" r="1.15" fill="#1565d0"/>
<circle cx="77.7" cy="251.3" r="1.15" fill="#1565d0"/>
<circle cx="82.9" cy="244.9" r="1.15" fill="#1565d0"/>
<circle cx="67.4" cy="240.3" r="1.15" fill="#1565d0"/>
<circle cx="64.8" cy="247.3" r="1.15" fill="#1565d0"/>
<circle cx="69.8" cy="253.3" r="1.15" fill="#1565d0"/>
<circle cx="65.3" cy="242.3" r="1.15" fill="#1565d0"/>
<circle cx="74.7" cy="250.1" r="1.15" fill="#1565d0"/>
<circle cx="79.7" cy="250.1" r="1.15" fill="#1565d0"/>
<circle cx="86.8" cy="252.9" r="1.15" fill="#1565d0"/>
<circle cx="68.9" cy="251.0" r="1.15" fill="#1565d0"/>
<circle cx="68.4" cy="247.6" r="1.15" fill="#1565d0"/>
<circle cx="75.3" cy="240.2" r="1.15" fill="#1565d0"/>
<circle cx="68.4" cy="251.4" r="1.15" fill="#1565d0"/>
<circle cx="72.4" cy="263.4" r="1.15" fill="#1565d0"/>
<circle cx="76.5" cy="274.8" r="1.15" fill="#1565d0"/>
<circle cx="82.0" cy="272.6" r="1.15" fill="#1565d0"/>
<circle cx="82.9" cy="266.6" r="1.15" fill="#1565d0"/>
<circle cx="66.3" cy="280.5" r="1.15" fill="#1565d0"/>
<circle cx="81.2" cy="281.2" r="1.15" fill="#1565d0"/>
<circle cx="74.9" cy="259.5" r="1.15" fill="#1565d0"/>
<circle cx="85.7" cy="272.9" r="1.15" fill="#1565d0"/>
<circle cx="77.6" cy="266.2" r="1.15" fill="#1565d0"/>
<circle cx="83.0" cy="279.7" r="1.15" fill="#1565d0"/>
<circle cx="75.1" cy="281.5" r="1.15" fill="#1565d0"/>
<circle cx="69.0" cy="273.6" r="1.15" fill="#1565d0"/>
<circle cx="83.5" cy="275.5" r="1.15" fill="#1565d0"/>
<circle cx="81.1" cy="273.3" r="1.15" fill="#1565d0"/>
<circle cx="85.4" cy="261.8" r="1.15" fill="#1565d0"/>
<circle cx="87.3" cy="282.5" r="1.15" fill="#1565d0"/>
<circle cx="82.9" cy="270.5" r="1.15" fill="#1565d0"/>
<circle cx="85.7" cy="264.7" r="1.15" fill="#1565d0"/>
<circle cx="72.4" cy="279.1" r="1.15" fill="#1565d0"/>
<circle cx="74.6" cy="258.2" r="1.15" fill="#1565d0"/>
<circle cx="82.3" cy="270.9" r="1.15" fill="#1565d0"/>
<circle cx="64.9" cy="269.2" r="1.15" fill="#1565d0"/>
<circle cx="65.7" cy="277.8" r="1.15" fill="#1565d0"/>
<circle cx="68.3" cy="277.6" r="1.15" fill="#1565d0"/>
<circle cx="82.8" cy="265.0" r="1.15" fill="#1565d0"/>
<circle cx="67.7" cy="259.8" r="1.15" fill="#1565d0"/>
<circle cx="81.3" cy="269.9" r="1.15" fill="#1565d0"/>
<circle cx="80.5" cy="278.7" r="1.15" fill="#1565d0"/>
<circle cx="75.8" cy="281.5" r="1.15" fill="#1565d0"/>
<circle cx="66.2" cy="281.6" r="1.15" fill="#1565d0"/>
<circle cx="76.6" cy="284.5" r="1.15" fill="#1565d0"/>
<circle cx="81.4" cy="285.0" r="1.15" fill="#1565d0"/>
<circle cx="76.5" cy="287.5" r="1.15" fill="#1565d0"/>
<circle cx="77.4" cy="288.9" r="1.15" fill="#1565d0"/>
<circle cx="73.2" cy="285.2" r="1.15" fill="#1565d0"/>
<circle cx="85.5" cy="288.9" r="1.15" fill="#1565d0"/>
<circle cx="84.3" cy="284.5" r="1.15" fill="#1565d0"/>
<circle cx="76.6" cy="289.8" r="1.15" fill="#1565d0"/>
<circle cx="68.9" cy="287.0" r="1.15" fill="#1565d0"/>
<circle cx="76.1" cy="286.8" r="1.15" fill="#1565d0"/>
<circle cx="64.9" cy="287.2" r="1.15" fill="#1565d0"/>
<circle cx="76.4" cy="289.8" r="1.15" fill="#1565d0"/>
<circle cx="83.1" cy="285.8" r="1.15" fill="#1565d0"/>
<circle cx="75.8" cy="286.9" r="1.15" fill="#1565d0"/>
<circle cx="65.8" cy="287.8" r="1.15" fill="#1565d0"/>
<circle cx="74.0" cy="286.8" r="1.15" fill="#1565d0"/>
<circle cx="86.0" cy="289.7" r="1.15" fill="#1565d0"/>
<circle cx="75.4" cy="284.9" r="1.15" fill="#1565d0"/>
<circle cx="74.4" cy="293.9" r="1.15" fill="#1565d0"/>
<circle cx="85.5" cy="315.3" r="1.15" fill="#1565d0"/>
<circle cx="71.7" cy="304.8" r="1.15" fill="#1565d0"/>
<circle cx="78.8" cy="295.9" r="1.15" fill="#1565d0"/>
<circle cx="67.3" cy="318.7" r="1.15" fill="#1565d0"/>
<circle cx="64.7" cy="314.2" r="1.15" fill="#1565d0"/>
<circle cx="69.6" cy="296.0" r="1.15" fill="#1565d0"/>
<circle cx="71.8" cy="311.3" r="1.15" fill="#1565d0"/>
<circle cx="78.8" cy="301.0" r="1.15" fill="#1565d0"/>
<circle cx="81.4" cy="293.3" r="1.15" fill="#1565d0"/>
<circle cx="76.2" cy="293.8" r="1.15" fill="#1565d0"/>
<circle cx="68.9" cy="297.8" r="1.15" fill="#1565d0"/>
<circle cx="74.5" cy="306.4" r="1.15" fill="#1565d0"/>
<circle cx="74.0" cy="301.6" r="1.15" fill="#1565d0"/>
<circle cx="68.0" cy="306.4" r="1.15" fill="#1565d0"/>
<circle cx="79.1" cy="296.3" r="1.15" fill="#1565d0"/>
<circle cx="76.7" cy="309.8" r="1.15" fill="#1565d0"/>
<circle cx="78.6" cy="316.4" r="1.15" fill="#1565d0"/>
<circle cx="69.7" cy="316.6" r="1.15" fill="#1565d0"/>
<circle cx="83.3" cy="313.0" r="1.15" fill="#1565d0"/>
<circle cx="71.7" cy="318.0" r="1.15" fill="#1565d0"/>
<circle cx="86.0" cy="299.8" r="1.15" fill="#1565d0"/>
<circle cx="87.8" cy="296.8" r="1.15" fill="#1565d0"/>
<circle cx="67.4" cy="317.5" r="1.15" fill="#1565d0"/>
<circle cx="81.3" cy="297.4" r="1.15" fill="#1565d0"/>
<circle cx="66.5" cy="298.0" r="1.15" fill="#1565d0"/>
<circle cx="74.2" cy="315.8" r="1.15" fill="#1565d0"/>
<circle cx="67.2" cy="314.5" r="1.15" fill="#1565d0"/>
<circle cx="80.4" cy="302.5" r="1.15" fill="#1565d0"/>
<circle cx="68.9" cy="290.6" r="1.15" fill="#1565d0"/>
<circle cx="85.7" cy="311.2" r="1.15" fill="#1565d0"/>
<circle cx="66.9" cy="320.0" r="1.15" fill="#1565d0"/>
<circle cx="82.1" cy="305.7" r="1.15" fill="#1565d0"/>
<circle cx="80.4" cy="305.6" r="1.15" fill="#1565d0"/>
<circle cx="65.9" cy="295.9" r="1.15" fill="#1565d0"/>
<circle cx="65.1" cy="293.3" r="1.15" fill="#1565d0"/>
<circle cx="76.3" cy="307.1" r="1.15" fill="#1565d0"/>
<circle cx="67.7" cy="307.6" r="1.15" fill="#1565d0"/>
<circle cx="69.0" cy="295.7" r="1.15" fill="#1565d0"/>
<circle cx="87.6" cy="316.0" r="1.15" fill="#1565d0"/>
<circle cx="66.4" cy="318.7" r="1.15" fill="#1565d0"/>
<circle cx="86.7" cy="291.9" r="1.15" fill="#1565d0"/>
<circle cx="82.2" cy="304.3" r="1.15" fill="#1565d0"/>
<circle cx="75.2" cy="300.1" r="1.15" fill="#1565d0"/>
<circle cx="74.3" cy="306.0" r="1.15" fill="#1565d0"/>
<circle cx="64.5" cy="308.6" r="1.15" fill="#1565d0"/>
<circle cx="84.1" cy="311.7" r="1.15" fill="#1565d0"/>
<circle cx="74.9" cy="295.6" r="1.15" fill="#1565d0"/>
<circle cx="73.8" cy="312.9" r="1.15" fill="#1565d0"/>
<circle cx="68.1" cy="296.0" r="1.15" fill="#1565d0"/>
<circle cx="64.6" cy="305.9" r="1.15" fill="#1565d0"/>
<circle cx="83.1" cy="317.7" r="1.15" fill="#1565d0"/>
<circle cx="84.5" cy="311.8" r="1.15" fill="#1565d0"/>
<circle cx="73.7" cy="309.5" r="1.15" fill="#1565d0"/>
<circle cx="76.1" cy="308.6" r="1.15" fill="#1565d0"/>
<circle cx="83.2" cy="320.5" r="1.15" fill="#1565d0"/>
<circle cx="85.7" cy="298.0" r="1.15" fill="#1565d0"/>
<circle cx="82.6" cy="313.1" r="1.15" fill="#1565d0"/>
<circle cx="73.8" cy="315.3" r="1.15" fill="#1565d0"/>
<circle cx="85.0" cy="317.8" r="1.15" fill="#1565d0"/>
<circle cx="82.3" cy="311.5" r="1.15" fill="#1565d0"/>
<circle cx="73.8" cy="313.7" r="1.15" fill="#1565d0"/>
<circle cx="65.9" cy="312.4" r="1.15" fill="#1565d0"/>
<circle cx="75.3" cy="300.6" r="1.15" fill="#1565d0"/>
<circle cx="72.6" cy="290.3" r="1.15" fill="#1565d0"/>
<circle cx="78.9" cy="309.8" r="1.15" fill="#1565d0"/>
<circle cx="86.5" cy="297.2" r="1.15" fill="#1565d0"/>
<circle cx="72.2" cy="310.6" r="1.15" fill="#1565d0"/>
<circle cx="77.6" cy="310.5" r="1.15" fill="#1565d0"/>
<circle cx="73.4" cy="306.5" r="1.15" fill="#1565d0"/>
<circle cx="79.4" cy="321.0" r="1.15" fill="#1565d0"/>
<circle cx="82.2" cy="311.7" r="1.15" fill="#1565d0"/>
<circle cx="64.7" cy="320.4" r="1.15" fill="#1565d0"/>
<circle cx="81.6" cy="309.1" r="1.15" fill="#1565d0"/>
<circle cx="73.7" cy="298.0" r="1.15" fill="#1565d0"/>
<circle cx="68.8" cy="291.6" r="1.15" fill="#1565d0"/>
<circle cx="66.5" cy="301.6" r="1.15" fill="#1565d0"/>
<circle cx="85.6" cy="297.8" r="1.15" fill="#1565d0"/>
<circle cx="76.2" cy="307.1" r="1.15" fill="#1565d0"/>
<circle cx="77.6" cy="320.0" r="1.15" fill="#1565d0"/>
<circle cx="79.3" cy="320.8" r="1.15" fill="#1565d0"/>
<circle cx="66.0" cy="315.1" r="1.15" fill="#1565d0"/>
<circle cx="82.1" cy="308.5" r="1.15" fill="#1565d0"/>
<circle cx="86.2" cy="291.4" r="1.15" fill="#1565d0"/>
<circle cx="75.3" cy="295.0" r="1.15" fill="#1565d0"/>
<circle cx="75.9" cy="295.2" r="1.15" fill="#1565d0"/>
<circle cx="65.6" cy="308.9" r="1.15" fill="#1565d0"/>
<circle cx="74.1" cy="319.3" r="1.15" fill="#1565d0"/>
<circle cx="78.3" cy="306.3" r="1.15" fill="#1565d0"/>
<circle cx="70.9" cy="301.3" r="1.15" fill="#1565d0"/>
<circle cx="77.4" cy="310.3" r="1.15" fill="#1565d0"/>
<circle cx="81.1" cy="298.8" r="1.15" fill="#1565d0"/>
<circle cx="64.5" cy="299.2" r="1.15" fill="#1565d0"/>
<circle cx="65.2" cy="297.6" r="1.15" fill="#1565d0"/>
<circle cx="82.0" cy="294.9" r="1.15" fill="#1565d0"/>
<circle cx="85.4" cy="302.1" r="1.15" fill="#1565d0"/>
<circle cx="65.4" cy="313.2" r="1.15" fill="#1565d0"/>
<circle cx="86.5" cy="320.7" r="1.15" fill="#1565d0"/>
<circle cx="85.6" cy="292.3" r="1.15" fill="#1565d0"/>
<circle cx="75.5" cy="303.3" r="1.15" fill="#1565d0"/>
<circle cx="70.0" cy="320.2" r="1.15" fill="#1565d0"/>
<circle cx="86.3" cy="306.2" r="1.15" fill="#1565d0"/>
<circle cx="75.3" cy="312.4" r="1.15" fill="#1565d0"/>
<circle cx="83.5" cy="320.3" r="1.15" fill="#1565d0"/>
<circle cx="66.9" cy="308.7" r="1.15" fill="#1565d0"/>
<circle cx="75.0" cy="309.4" r="1.15" fill="#1565d0"/>
<circle cx="65.4" cy="296.3" r="1.15" fill="#1565d0"/>
<circle cx="67.1" cy="306.4" r="1.15" fill="#1565d0"/>
<circle cx="80.0" cy="303.7" r="1.15" fill="#1565d0"/>
<circle cx="70.4" cy="304.1" r="1.15" fill="#1565d0"/>
<circle cx="74.1" cy="308.0" r="1.15" fill="#1565d0"/>
<circle cx="76.7" cy="314.1" r="1.15" fill="#1565d0"/>
<circle cx="84.6" cy="328.0" r="1.15" fill="#1565d0"/>
<circle cx="71.0" cy="326.1" r="1.15" fill="#1565d0"/>
<circle cx="83.5" cy="321.8" r="1.15" fill="#1565d0"/>
<circle cx="78.4" cy="326.5" r="1.15" fill="#1565d0"/>
<circle cx="71.7" cy="323.5" r="1.15" fill="#1565d0"/>
<circle cx="77.2" cy="325.8" r="1.15" fill="#1565d0"/>
<circle cx="78.5" cy="325.1" r="1.15" fill="#1565d0"/>
<circle cx="70.1" cy="326.3" r="1.15" fill="#1565d0"/>
<circle cx="85.1" cy="322.7" r="1.15" fill="#1565d0"/>
<circle cx="83.2" cy="327.4" r="1.15" fill="#1565d0"/>
<circle cx="67.7" cy="321.3" r="1.15" fill="#1565d0"/>
<circle cx="74.6" cy="322.9" r="1.15" fill="#1565d0"/>
<circle cx="68.4" cy="325.4" r="1.15" fill="#1565d0"/>
<circle cx="67.9" cy="324.8" r="1.15" fill="#1565d0"/>
<circle cx="132.8" cy="200.1" r="1.25" fill="#d42828"/>
<circle cx="142.6" cy="200.8" r="1.25" fill="#d42828"/>
<circle cx="128.6" cy="204.3" r="1.25" fill="#d42828"/>
<circle cx="139.2" cy="203.2" r="1.25" fill="#d42828"/>
<circle cx="131.8" cy="206.9" r="1.25" fill="#d42828"/>
<circle cx="136.6" cy="207.7" r="1.25" fill="#d42828"/>
<circle cx="124.1" cy="209.8" r="1.25" fill="#d42828"/>
<circle cx="129.4" cy="210.7" r="1.25" fill="#d42828"/>
<circle cx="131.6" cy="212.0" r="1.25" fill="#d42828"/>
<circle cx="135.4" cy="211.5" r="1.25" fill="#d42828"/>
<circle cx="137.1" cy="212.0" r="1.25" fill="#d42828"/>
<circle cx="145.1" cy="211.1" r="1.25" fill="#d42828"/>
<circle cx="143.8" cy="212.8" r="1.25" fill="#d42828"/>
<circle cx="124.8" cy="213.2" r="1.25" fill="#d42828"/>
<circle cx="127.7" cy="213.6" r="1.25" fill="#d42828"/>
<circle cx="130.7" cy="213.6" r="1.25" fill="#d42828"/>
<circle cx="140.0" cy="214.1" r="1.25" fill="#d42828"/>
<circle cx="135.4" cy="216.6" r="1.25" fill="#d42828"/>
<circle cx="129.0" cy="217.9" r="1.25" fill="#d42828"/>
<circle cx="126.5" cy="220.4" r="1.25" fill="#d42828"/>
<circle cx="136.6" cy="221.3" r="1.25" fill="#d42828"/>
<circle cx="140.9" cy="222.5" r="1.25" fill="#d42828"/>
<circle cx="129.0" cy="223.0" r="1.25" fill="#d42828"/>
<circle cx="131.6" cy="223.0" r="1.25" fill="#d42828"/>
<circle cx="142.2" cy="224.2" r="1.25" fill="#d42828"/>
<circle cx="125.6" cy="225.9" r="1.25" fill="#d42828"/>
<circle cx="131.1" cy="225.5" r="1.25" fill="#d42828"/>
<circle cx="136.2" cy="224.7" r="1.25" fill="#d42828"/>
<circle cx="138.3" cy="225.1" r="1.25" fill="#d42828"/>
<circle cx="144.7" cy="225.5" r="1.25" fill="#d42828"/>
<circle cx="137.1" cy="226.8" r="1.25" fill="#d42828"/>
<circle cx="133.3" cy="227.2" r="1.25" fill="#d42828"/>
<circle cx="123.9" cy="228.9" r="1.25" fill="#d42828"/>
<circle cx="133.7" cy="229.7" r="1.25" fill="#d42828"/>
<circle cx="137.5" cy="227.6" r="1.25" fill="#d42828"/>
<circle cx="137.5" cy="231.4" r="1.25" fill="#d42828"/>
<circle cx="143.0" cy="231.9" r="1.25" fill="#d42828"/>
<circle cx="146.0" cy="231.4" r="1.25" fill="#d42828"/>
<circle cx="123.9" cy="234.0" r="1.25" fill="#d42828"/>
<circle cx="128.6" cy="234.0" r="1.25" fill="#d42828"/>
<circle cx="132.4" cy="233.1" r="1.25" fill="#d42828"/>
<circle cx="140.9" cy="233.6" r="1.25" fill="#d42828"/>
<circle cx="136.6" cy="235.3" r="1.25" fill="#d42828"/>
<circle cx="146.4" cy="235.7" r="1.25" fill="#d42828"/>
<circle cx="132.0" cy="237.0" r="1.25" fill="#d42828"/>
<circle cx="144.3" cy="237.4" r="1.25" fill="#d42828"/>
<circle cx="126.0" cy="241.8" r="1.25" fill="#d42828"/>
<circle cx="144.3" cy="240.5" r="1.25" fill="#d42828"/>
<circle cx="132.8" cy="245.6" r="1.25" fill="#d42828"/>
<circle cx="136.6" cy="246.5" r="1.25" fill="#d42828"/>
<circle cx="138.8" cy="245.5" r="1.25" fill="#d42828"/>
<circle cx="124.4" cy="248.6" r="1.25" fill="#d42828"/>
<circle cx="140.9" cy="252.4" r="1.25" fill="#d42828"/>
<circle cx="145.5" cy="256.2" r="1.25" fill="#d42828"/>
<circle cx="145.5" cy="262.6" r="1.25" fill="#d42828"/>
<circle cx="136.6" cy="266.8" r="1.25" fill="#d42828"/>
<circle cx="139.2" cy="267.7" r="1.25" fill="#d42828"/>
<circle cx="125.2" cy="269.4" r="1.25" fill="#d42828"/>
<circle cx="126.9" cy="269.4" r="1.25" fill="#d42828"/>
<circle cx="133.3" cy="268.9" r="1.25" fill="#d42828"/>
<circle cx="137.9" cy="269.8" r="1.25" fill="#d42828"/>
<circle cx="123.5" cy="271.9" r="1.25" fill="#d42828"/>
<circle cx="141.7" cy="271.9" r="1.25" fill="#d42828"/>
<circle cx="142.6" cy="278.7" r="1.25" fill="#d42828"/>
<circle cx="127.7" cy="281.6" r="1.25" fill="#d42828"/>
<circle cx="133.3" cy="282.1" r="1.25" fill="#d42828"/>
<circle cx="140.5" cy="281.6" r="1.25" fill="#d42828"/>
<circle cx="123.9" cy="282.5" r="1.25" fill="#d42828"/>
<circle cx="123.8" cy="283.4" r="1.25" fill="#d42828"/>
<circle cx="124.8" cy="284.9" r="1.25" fill="#d42828"/>
<circle cx="127.6" cy="282.0" r="1.25" fill="#d42828"/>
<circle cx="133.4" cy="282.7" r="1.25" fill="#d42828"/>
<circle cx="140.7" cy="282.0" r="1.25" fill="#d42828"/>
<circle cx="146.0" cy="284.9" r="1.25" fill="#d42828"/>
<circle cx="146.0" cy="286.8" r="1.25" fill="#d42828"/>
<circle cx="128.1" cy="286.8" r="1.25" fill="#d42828"/>
<circle cx="126.7" cy="289.2" r="1.25" fill="#d42828"/>
<circle cx="139.7" cy="289.2" r="1.25" fill="#d42828"/>
<circle cx="146.9" cy="290.6" r="1.25" fill="#d42828"/>
<circle cx="146.9" cy="292.6" r="1.25" fill="#d42828"/>
<circle cx="125.7" cy="291.6" r="1.25" fill="#d42828"/>
<circle cx="136.8" cy="293.5" r="1.25" fill="#d42828"/>
<circle cx="145.0" cy="295.0" r="1.25" fill="#d42828"/>
<circle cx="124.8" cy="295.0" r="1.25" fill="#d42828"/>
<circle cx="132.5" cy="296.4" r="1.25" fill="#d42828"/>
<circle cx="134.9" cy="296.0" r="1.25" fill="#d42828"/>
<circle cx="137.8" cy="296.9" r="1.25" fill="#d42828"/>
<circle cx="141.1" cy="298.4" r="1.25" fill="#d42828"/>
<circle cx="137.3" cy="298.8" r="1.25" fill="#d42828"/>
<circle cx="139.2" cy="300.3" r="1.25" fill="#d42828"/>
<circle cx="132.5" cy="301.3" r="1.25" fill="#d42828"/>
<circle cx="125.2" cy="304.1" r="1.25" fill="#d42828"/>
<circle cx="141.6" cy="305.1" r="1.25" fill="#d42828"/>
<circle cx="141.6" cy="306.6" r="1.25" fill="#d42828"/>
<circle cx="134.9" cy="307.0" r="1.25" fill="#d42828"/>
<circle cx="129.1" cy="307.5" r="1.25" fill="#d42828"/>
<circle cx="127.2" cy="308.5" r="1.25" fill="#d42828"/>
<circle cx="144.0" cy="309.0" r="1.25" fill="#d42828"/>
<circle cx="146.4" cy="309.4" r="1.25" fill="#d42828"/>
<circle cx="145.5" cy="309.9" r="1.25" fill="#d42828"/>
<circle cx="131.5" cy="309.9" r="1.25" fill="#d42828"/>
<circle cx="132.5" cy="310.9" r="1.25" fill="#d42828"/>
<circle cx="130.5" cy="311.4" r="1.25" fill="#d42828"/>
<circle cx="133.9" cy="311.9" r="1.25" fill="#d42828"/>
<circle cx="125.2" cy="312.8" r="1.25" fill="#d42828"/>
<circle cx="134.4" cy="314.3" r="1.25" fill="#d42828"/>
<circle cx="133.9" cy="315.7" r="1.25" fill="#d42828"/>
<circle cx="127.6" cy="315.7" r="1.25" fill="#d42828"/>
<circle cx="125.2" cy="317.6" r="1.25" fill="#d42828"/>
<circle cx="129.6" cy="318.6" r="1.25" fill="#d42828"/>
<circle cx="138.3" cy="319.6" r="1.25" fill="#d42828"/>
<circle cx="140.7" cy="322.0" r="1.25" fill="#d42828"/>
<circle cx="136.3" cy="325.4" r="1.25" fill="#d42828"/>
<circle cx="141.1" cy="328.3" r="1.25" fill="#d42828"/>
<rect x="40.3" y="192.8" width="130.20" height="141.80" fill="none" stroke="#b5b5b5" stroke-width="0.7"/>
<text x="211.5" y="188.8" font-size="12.5" font-weight="bold" fill="#111">C</text>
<text x="279.0" y="188.0" font-size="8.9" fill="#111" stroke="#111" stroke-width="0.18">Interferon γ response</text>
<line x1="247.5" x2="401.3" y1="326.20" y2="326.20" stroke="#ececec" stroke-width="0.55"/>
<line x1="247.5" x2="401.3" y1="300.30" y2="300.30" stroke="#ececec" stroke-width="0.55"/>
<line x1="247.5" x2="401.3" y1="274.40" y2="274.40" stroke="#ececec" stroke-width="0.55"/>
<line x1="247.5" x2="401.3" y1="248.50" y2="248.50" stroke="#ececec" stroke-width="0.55"/>
<line x1="247.5" x2="401.3" y1="222.60" y2="222.60" stroke="#ececec" stroke-width="0.55"/>
<line x1="247.5" x2="401.3" y1="196.70" y2="196.70" stroke="#ececec" stroke-width="0.55"/>
<line x1="254.40" x2="254.40" y1="185.04" y2="336.40" stroke="#ececec" stroke-width="0.55"/>
<line x1="289.15" x2="289.15" y1="185.04" y2="336.40" stroke="#ececec" stroke-width="0.55"/>
<line x1="323.90" x2="323.90" y1="185.04" y2="336.40" stroke="#ececec" stroke-width="0.55"/>
<line x1="358.65" x2="358.65" y1="185.04" y2="336.40" stroke="#ececec" stroke-width="0.55"/>
<line x1="393.40" x2="393.40" y1="185.04" y2="336.40" stroke="#ececec" stroke-width="0.55"/>
<line x1="246.0" x2="247.5" y1="326.20" y2="326.20" stroke="#555" stroke-width="0.4"/>
<text x="245.7" y="328.20" font-size="5.6" fill="#555555" text-anchor="end" stroke="#555555" stroke-width="0.18">0.0</text>
<line x1="246.0" x2="247.5" y1="300.30" y2="300.30" stroke="#555" stroke-width="0.4"/>
<text x="245.7" y="302.30" font-size="5.6" fill="#555555" text-anchor="end" stroke="#555555" stroke-width="0.18">0.1</text>
<line x1="246.0" x2="247.5" y1="274.40" y2="274.40" stroke="#555" stroke-width="0.4"/>
<text x="245.7" y="276.40" font-size="5.6" fill="#555555" text-anchor="end" stroke="#555555" stroke-width="0.18">0.2</text>
<line x1="246.0" x2="247.5" y1="248.50" y2="248.50" stroke="#555" stroke-width="0.4"/>
<text x="245.7" y="250.50" font-size="5.6" fill="#555555" text-anchor="end" stroke="#555555" stroke-width="0.18">0.3</text>
<line x1="246.0" x2="247.5" y1="222.60" y2="222.60" stroke="#555" stroke-width="0.4"/>
<text x="245.7" y="224.60" font-size="5.6" fill="#555555" text-anchor="end" stroke="#555555" stroke-width="0.18">0.4</text>
<line x1="246.0" x2="247.5" y1="196.70" y2="196.70" stroke="#555" stroke-width="0.4"/>
<text x="245.7" y="198.70" font-size="5.6" fill="#555555" text-anchor="end" stroke="#555555" stroke-width="0.18">0.5</text>
<line x1="254.40" x2="254.40" y1="341.7" y2="343.1" stroke="#555" stroke-width="0.4"/>
<text x="254.40" y="347.70" font-size="5.6" fill="#555555" text-anchor="middle" stroke="#555555" stroke-width="0.18">0</text>
<line x1="289.15" x2="289.15" y1="341.7" y2="343.1" stroke="#555" stroke-width="0.4"/>
<text x="289.15" y="347.70" font-size="5.6" fill="#555555" text-anchor="middle" stroke="#555555" stroke-width="0.18">5000</text>
<line x1="323.90" x2="323.90" y1="341.7" y2="343.1" stroke="#555" stroke-width="0.4"/>
<text x="323.90" y="347.70" font-size="5.6" fill="#555555" text-anchor="middle" stroke="#555555" stroke-width="0.18">10000</text>
<line x1="358.65" x2="358.65" y1="341.7" y2="343.1" stroke="#555" stroke-width="0.4"/>
<text x="358.65" y="347.70" font-size="5.6" fill="#555555" text-anchor="middle" stroke="#555555" stroke-width="0.18">15000</text>
<line x1="393.40" x2="393.40" y1="341.7" y2="343.1" stroke="#555" stroke-width="0.4"/>
<text x="393.40" y="347.70" font-size="5.6" fill="#555555" text-anchor="middle" stroke="#555555" stroke-width="0.18">20000</text>
<text x="325" y="357.9" font-size="7.9" fill="#1a1a1a" text-anchor="middle" stroke="#1a1a1a" stroke-width="0.18">rank</text>
<text transform="translate(225.0,263.6) rotate(-90)" font-size="8.8" fill="#1a1a1a" text-anchor="middle" stroke="#1a1a1a" stroke-width="0.18">Enrichment score</text>
<rect x="254" y="318.8" width="1" height="15.60" fill="#000" fill-opacity="0.13"/>
<rect x="255" y="318.8" width="1" height="15.60" fill="#000" fill-opacity="0.27"/>
<rect x="256" y="318.8" width="1" height="15.60" fill="#000" fill-opacity="1.00"/>
<rect x="257" y="318.8" width="1" height="15.60" fill="#000" fill-opacity="0.67"/>
<rect x="258" y="318.8" width="1" height="15.60" fill="#000" fill-opacity="0.80"/>
<rect x="259" y="318.8" width="1" height="15.60" fill="#000" fill-opacity="1.00"/>
<rect x="260" y="318.8" width="1" height="15.60" fill="#000" fill-opacity="0.67"/>
<rect x="261" y="318.8" width="1" height="15.60" fill="#000" fill-opacity="0.93"/>
<rect x="262" y="318.8" width="1" height="15.60" fill="#000" fill-opacity="0.67"/>
<rect x="263" y="318.8" width="1" height="15.60" fill="#000" fill-opacity="0.93"/>
<rect x="264" y="318.8" width="1" height="15.60" fill="#000" fill-opacity="0.53"/>
<rect x="265" y="318.8" width="1" height="15.60" fill="#000" fill-opacity="0.93"/>
<rect x="266" y="318.8" width="1" height="15.60" fill="#000" fill-opacity="0.40"/>
<rect x="267" y="318.8" width="1" height="15.60" fill="#000" fill-opacity="1.00"/>
<rect x="268" y="318.8" width="1" height="15.60" fill="#000" fill-opacity="1.00"/>
<rect x="269" y="318.8" width="1" height="15.60" fill="#000" fill-opacity="0.13"/>
<rect x="270" y="318.8" width="1" height="15.60" fill="#000" fill-opacity="0.53"/>
<rect x="271" y="318.8" width="1" height="15.60" fill="#000" fill-opacity="0.67"/>
<rect x="272" y="318.8" width="1" height="15.60" fill="#000" fill-opacity="0.67"/>
<rect x="273" y="318.8" width="1" height="15.60" fill="#000" fill-opacity="0.67"/>
<rect x="274" y="318.8" width="1" height="15.60" fill="#000" fill-opacity="0.67"/>
<rect x="275" y="318.8" width="1" height="15.60" fill="#000" fill-opacity="0.67"/>
<rect x="276" y="318.8" width="1" height="15.60" fill="#000" fill-opacity="0.67"/>
<rect x="277" y="318.8" width="1" height="15.60" fill="#000" fill-opacity="0.93"/>
<rect x="278" y="318.8" width="1" height="15.60" fill="#000" fill-opacity="0.53"/>
<rect x="279" y="318.8" width="1" height="15.60" fill="#000" fill-opacity="0.67"/>
<rect x="280" y="318.8" width="1" height="15.60" fill="#000" fill-opacity="0.40"/>
<rect x="281" y="318.8" width="1" height="15.60" fill="#000" fill-opacity="0.93"/>
<rect x="282" y="318.8" width="1" height="15.60" fill="#000" fill-opacity="0.67"/>
<rect x="283" y="318.8" width="1" height="15.60" fill="#000" fill-opacity="1.00"/>
<rect x="284" y="318.8" width="1" height="15.60" fill="#000" fill-opacity="0.67"/>
<rect x="285" y="318.8" width="1" height="15.60" fill="#000" fill-opacity="1.00"/>
<rect x="286" y="318.8" width="1" height="15.60" fill="#000" fill-opacity="1.00"/>
<rect x="287" y="318.8" width="1" height="15.60" fill="#000" fill-opacity="0.80"/>
<rect x="289" y="318.8" width="1" height="15.60" fill="#000" fill-opacity="0.67"/>
<rect x="290" y="318.8" width="1" height="15.60" fill="#000" fill-opacity="0.93"/>
<rect x="292" y="318.8" width="1" height="15.60" fill="#000" fill-opacity="0.67"/>
<rect x="293" y="318.8" width="1" height="15.60" fill="#000" fill-opacity="1.00"/>
<rect x="295" y="318.8" width="1" height="15.60" fill="#000" fill-opacity="0.93"/>
<rect x="297" y="318.8" width="1" height="15.60" fill="#000" fill-opacity="0.67"/>
<rect x="298" y="318.8" width="1" height="15.60" fill="#000" fill-opacity="0.93"/>
<rect x="299" y="318.8" width="1" height="15.60" fill="#000" fill-opacity="0.67"/>
<rect x="300" y="318.8" width="1" height="15.60" fill="#000" fill-opacity="0.13"/>
<rect x="301" y="318.8" width="1" height="15.60" fill="#000" fill-opacity="0.40"/>
<rect x="302" y="318.8" width="1" height="15.60" fill="#000" fill-opacity="0.67"/>
<rect x="303" y="318.8" width="1" height="15.60" fill="#000" fill-opacity="0.40"/>
<rect x="304" y="318.8" width="1" height="15.60" fill="#000" fill-opacity="1.00"/>
<rect x="305" y="318.8" width="1" height="15.60" fill="#000" fill-opacity="1.00"/>
<rect x="307" y="318.8" width="1" height="15.60" fill="#000" fill-opacity="0.67"/>
<rect x="308" y="318.8" width="1" height="15.60" fill="#000" fill-opacity="0.27"/>
<rect x="310" y="318.8" width="1" height="15.60" fill="#000" fill-opacity="0.53"/>
<rect x="311" y="318.8" width="1" height="15.60" fill="#000" fill-opacity="0.67"/>
<rect x="312" y="318.8" width="1" height="15.60" fill="#000" fill-opacity="0.93"/>
<rect x="313" y="318.8" width="1" height="15.60" fill="#000" fill-opacity="0.67"/>
<rect x="314" y="318.8" width="1" height="15.60" fill="#000" fill-opacity="0.67"/>
<rect x="315" y="318.8" width="1" height="15.60" fill="#000" fill-opacity="0.80"/>
<rect x="316" y="318.8" width="1" height="15.60" fill="#000" fill-opacity="1.00"/>
<rect x="317" y="318.8" width="1" height="15.60" fill="#000" fill-opacity="0.67"/>
<rect x="318" y="318.8" width="1" height="15.60" fill="#000" fill-opacity="0.67"/>
<rect x="319" y="318.8" width="1" height="15.60" fill="#000" fill-opacity="0.53"/>
<rect x="320" y="318.8" width="1" height="15.60" fill="#000" fill-opacity="0.67"/>
<rect x="321" y="318.8" width="1" height="15.60" fill="#000" fill-opacity="0.27"/>
<rect x="323" y="318.8" width="1" height="15.60" fill="#000" fill-opacity="0.27"/>
<rect x="324" y="318.8" width="1" height="15.60" fill="#000" fill-opacity="0.67"/>
<rect x="325" y="318.8" width="1" height="15.60" fill="#000" fill-opacity="0.80"/>
<rect x="326" y="318.8" width="1" height="15.60" fill="#000" fill-opacity="0.80"/>
<rect x="327" y="318.8" width="1" height="15.60" fill="#000" fill-opacity="0.93"/>
<rect x="328" y="318.8" width="1" height="15.60" fill="#000" fill-opacity="0.67"/>
<rect x="329" y="318.8" width="1" height="15.60" fill="#000" fill-opacity="0.13"/>
<rect x="330" y="318.8" width="1" height="15.60" fill="#000" fill-opacity="0.27"/>
<rect x="331" y="318.8" width="1" height="15.60" fill="#000" fill-opacity="0.53"/>
<rect x="332" y="318.8" width="1" height="15.60" fill="#000" fill-opacity="0.53"/>
<rect x="333" y="318.8" width="1" height="15.60" fill="#000" fill-opacity="0.40"/>
<rect x="334" y="318.8" width="1" height="15.60" fill="#000" fill-opacity="0.53"/>
<rect x="335" y="318.8" width="1" height="15.60" fill="#000" fill-opacity="0.53"/>
<rect x="336" y="318.8" width="1" height="15.60" fill="#000" fill-opacity="0.27"/>
<rect x="337" y="318.8" width="1" height="15.60" fill="#000" fill-opacity="0.40"/>
<rect x="338" y="318.8" width="1" height="15.60" fill="#000" fill-opacity="0.53"/>
<rect x="339" y="318.8" width="1" height="15.60" fill="#000" fill-opacity="0.27"/>
<rect x="341" y="318.8" width="1" height="15.60" fill="#000" fill-opacity="0.13"/>
<rect x="342" y="318.8" width="1" height="15.60" fill="#000" fill-opacity="0.27"/>
<rect x="344" y="318.8" width="1" height="15.60" fill="#000" fill-opacity="0.80"/>
<rect x="345" y="318.8" width="1" height="15.60" fill="#000" fill-opacity="0.40"/>
<rect x="346" y="318.8" width="1" height="15.60" fill="#000" fill-opacity="0.13"/>
<rect x="347" y="318.8" width="1" height="15.60" fill="#000" fill-opacity="0.53"/>
<rect x="348" y="318.8" width="1" height="15.60" fill="#000" fill-opacity="0.40"/>
<rect x="349" y="318.8" width="1" height="15.60" fill="#000" fill-opacity="0.67"/>
<rect x="350" y="318.8" width="1" height="15.60" fill="#000" fill-opacity="0.13"/>
<rect x="352" y="318.8" width="1" height="15.60" fill="#000" fill-opacity="0.27"/>
<rect x="353" y="318.8" width="1" height="15.60" fill="#000" fill-opacity="0.40"/>
<rect x="354" y="318.8" width="1" height="15.60" fill="#000" fill-opacity="0.53"/>
<rect x="355" y="318.8" width="1" height="15.60" fill="#000" fill-opacity="0.27"/>
<rect x="356" y="318.8" width="1" height="15.60" fill="#000" fill-opacity="0.53"/>
<rect x="357" y="318.8" width="1" height="15.60" fill="#000" fill-opacity="0.93"/>
<rect x="358" y="318.8" width="1" height="15.60" fill="#000" fill-opacity="0.27"/>
<rect x="359" y="318.8" width="1" height="15.60" fill="#000" fill-opacity="0.53"/>
<rect x="360" y="318.8" width="1" height="15.60" fill="#000" fill-opacity="0.13"/>
<rect x="361" y="318.8" width="1" height="15.60" fill="#000" fill-opacity="0.40"/>
<rect x="362" y="318.8" width="1" height="15.60" fill="#000" fill-opacity="0.13"/>
<rect x="364" y="318.8" width="1" height="15.60" fill="#000" fill-opacity="0.53"/>
<rect x="365" y="318.8" width="1" height="15.60" fill="#000" fill-opacity="0.27"/>
<rect x="366" y="318.8" width="1" height="15.60" fill="#000" fill-opacity="0.13"/>
<rect x="368" y="318.8" width="1" height="15.60" fill="#000" fill-opacity="0.40"/>
<rect x="371" y="318.8" width="1" height="15.60" fill="#000" fill-opacity="0.13"/>
<rect x="372" y="318.8" width="1" height="15.60" fill="#000" fill-opacity="0.93"/>
<rect x="376" y="318.8" width="1" height="15.60" fill="#000" fill-opacity="0.13"/>
<rect x="377" y="318.8" width="1" height="15.60" fill="#000" fill-opacity="0.67"/>
<rect x="379" y="318.8" width="1" height="15.60" fill="#000" fill-opacity="0.27"/>
<rect x="380" y="318.8" width="1" height="15.60" fill="#000" fill-opacity="0.80"/>
<rect x="381" y="318.8" width="1" height="15.60" fill="#000" fill-opacity="0.13"/>
<rect x="392" y="318.8" width="1" height="15.60" fill="#000" fill-opacity="0.13"/>
<rect x="393" y="318.8" width="1" height="15.60" fill="#000" fill-opacity="0.93"/>
<line x1="247.5" x2="401.3" y1="326.20" y2="326.20" stroke="#222" stroke-width="0.6"/>
<line x1="247.5" x2="401.3" y1="200.2" y2="200.2" stroke="#f28a8a" stroke-width="1.0" stroke-dasharray="5.7 5.25"/>
<line x1="247.5" x2="401.3" y1="329.8" y2="329.8" stroke="#f28a8a" stroke-width="1.0" stroke-dasharray="5.7 5.25"/>
<polyline points="255.4,326.0 255.5,325.2 255.7,324.2 255.8,323.2 255.9,321.9 256.0,321.0 256.2,319.4 256.3,318.5 256.4,317.7 256.6,316.8 256.7,315.9 256.9,314.9 257.0,312.9 257.2,312.2 257.3,311.5 257.4,310.6 257.6,309.7 257.7,307.6 257.9,307.0 258.0,306.3 258.1,304.2 258.3,303.7 258.4,303.0 258.6,302.3 258.7,301.5 258.9,300.6 259.0,299.7 259.1,298.7 259.3,297.8 259.4,296.8 259.6,295.9 259.7,294.4 259.9,292.2 260.0,291.7 260.1,291.0 260.3,290.3 260.4,289.5 260.6,288.6 260.7,287.7 260.8,286.7 261.0,285.8 261.1,284.8 261.3,283.9 261.4,282.9 261.6,281.9 261.7,280.9 262.0,279.9 262.2,277.5 262.5,276.9 262.7,276.1 263.0,275.2 263.2,274.3 263.5,272.1 263.7,271.5 264.0,270.4 264.2,269.7 264.5,268.8 264.7,266.7 264.9,266.1 265.1,264.8 265.2,264.1 265.4,263.3 265.6,261.5 265.8,259.8 266.0,259.3 266.1,258.7 266.3,258.0 266.4,257.3 266.5,256.4 266.7,255.5 266.8,253.6 266.9,252.4 267.1,251.8 267.2,251.0 267.3,249.9 267.5,249.1 267.6,248.2 267.7,247.3 267.9,246.4 268.0,245.4 268.1,244.5 268.3,243.5 268.4,242.5 269.6,242.5 270.8,242.5 272.0,242.5 272.7,241.6 273.4,240.8 274.1,239.9 274.9,239.0 275.6,237.5 276.3,236.8 277.0,236.1 277.7,235.4 278.5,234.0 279.2,233.5 280.0,232.0 280.7,231.7 280.9,230.0 281.2,229.5 281.4,228.9 281.7,228.1 281.9,227.3 282.1,226.5 282.4,225.3 282.6,224.4 282.9,223.6 283.1,221.9 283.4,221.2 283.7,220.3 284.0,219.5 284.3,218.5 284.6,217.6 285.0,216.6 285.3,215.6 285.6,214.7 285.9,213.6 286.2,211.7 286.5,210.9 286.8,210.1 287.2,208.1 287.6,207.1 288.0,206.6 288.4,206.0 288.9,204.6 289.3,204.0 289.7,203.3 290.1,202.5 290.5,201.7 291.7,201.1 293.0,201.4 294.2,201.5 295.2,202.2 296.1,202.4 297.1,203.0 298.0,202.5 299.0,203.4 300.0,203.3 301.1,203.9 302.1,204.4 303.1,204.8 304.2,205.1 305.2,204.8 305.8,206.0 306.4,206.4 307.0,207.7 307.6,208.8 308.3,209.9 308.9,211.0 309.5,211.7 310.1,212.8 311.1,213.4 312.0,214.0 313.0,214.6 313.9,215.2 314.9,215.8 315.8,215.2 316.8,216.1 317.7,216.9 318.7,217.6 319.3,217.9 319.9,218.7 320.6,219.8 321.2,219.7 321.8,219.7 322.4,221.3 323.0,222.7 323.7,223.9 324.3,225.1 324.9,226.1 325.7,225.7 326.5,226.1 327.4,227.2 328.2,228.2 329.0,229.1 329.8,229.9 330.3,230.9 330.8,231.9 331.4,231.6 331.9,232.9 332.4,234.1 332.9,235.2 333.4,235.4 334.0,236.6 334.5,236.6 335.0,238.0 335.5,239.3 336.1,240.5 336.6,240.6 337.1,241.9 337.6,242.5 338.1,242.9 338.7,244.4 339.2,245.6 339.7,246.8 340.2,247.6 340.7,248.3 341.2,248.1 341.7,249.6 342.1,250.1 342.6,251.6 343.1,252.9 343.6,254.1 344.1,255.3 344.6,256.3 345.1,257.4 345.6,257.7 346.1,257.9 346.6,259.3 347.1,260.5 347.5,261.2 348.0,262.4 348.5,263.5 349.0,264.6 349.5,265.6 350.0,266.6 350.5,267.5 351.0,268.5 351.5,269.4 352.0,270.3 352.6,271.2 353.1,272.1 353.6,273.0 354.1,273.9 354.6,273.8 355.1,275.0 355.6,275.3 356.4,276.3 357.2,277.3 358.1,278.2 358.9,279.0 359.7,279.8 360.5,280.6 361.1,280.7 361.8,280.6 362.4,282.1 363.0,283.4 363.6,284.6 364.2,285.7 364.9,286.7 365.5,287.8 366.2,287.7 366.9,288.4 367.5,289.6 368.2,290.3 368.9,290.1 369.6,291.2 370.2,292.5 370.9,292.4 371.6,293.8 372.2,295.1 372.7,296.2 373.3,297.3 373.9,298.3 374.5,298.0 375.0,299.3 375.6,300.4 376.2,300.3 376.8,301.6 377.3,302.1 377.9,303.3 378.5,304.5 379.1,305.0 379.6,305.1 380.2,306.5 380.8,307.7 381.4,308.8 382.0,309.8 382.6,310.8 383.2,311.8 383.9,311.8 384.5,313.0 385.1,314.1 385.7,315.1 386.3,315.0 386.9,316.2 387.4,317.4 388.0,318.5 388.6,319.6 389.2,320.6 389.8,321.5 390.3,322.1 390.9,323.1 391.5,324.1 392.1,325.1 392.6,326.1 393.2,326.2" fill="none" stroke="#10f010" stroke-width="1.0" stroke-linejoin="round"/>
<text x="269.0" y="299.1" font-size="8.8" fill="#1a1a1a" stroke="#1a1a1a" stroke-width="0.18">FDR &lt; 0.001</text>
<text x="269.0" y="309.40" font-size="8.8" fill="#1a1a1a" stroke="#1a1a1a" stroke-width="0.18">NES = 2.21</text>
<text x="5.7" y="378.8" font-size="12.5" font-weight="bold" fill="#111">D</text>
<text x="81.7" y="377.5" font-size="8.9" fill="#111" stroke="#111" stroke-width="0.18">Allograft rejection</text>
<line x1="39.9" x2="193.7" y1="511.80" y2="511.80" stroke="#ececec" stroke-width="0.55"/>
<line x1="39.9" x2="193.7" y1="482.12" y2="482.12" stroke="#ececec" stroke-width="0.55"/>
<line x1="39.9" x2="193.7" y1="452.44" y2="452.44" stroke="#ececec" stroke-width="0.55"/>
<line x1="39.9" x2="193.7" y1="422.76" y2="422.76" stroke="#ececec" stroke-width="0.55"/>
<line x1="39.9" x2="193.7" y1="393.08" y2="393.08" stroke="#ececec" stroke-width="0.55"/>
<line x1="46.50" x2="46.50" y1="379.72" y2="521.80" stroke="#ececec" stroke-width="0.55"/>
<line x1="81.42" x2="81.42" y1="379.72" y2="521.80" stroke="#ececec" stroke-width="0.55"/>
<line x1="116.34" x2="116.34" y1="379.72" y2="521.80" stroke="#ececec" stroke-width="0.55"/>
<line x1="151.26" x2="151.26" y1="379.72" y2="521.80" stroke="#ececec" stroke-width="0.55"/>
<line x1="186.18" x2="186.18" y1="379.72" y2="521.80" stroke="#ececec" stroke-width="0.55"/>
<line x1="38.4" x2="39.9" y1="511.80" y2="511.80" stroke="#555" stroke-width="0.4"/>
<text x="38.1" y="513.80" font-size="5.6" fill="#555555" text-anchor="end" stroke="#555555" stroke-width="0.18">0.0</text>
<line x1="38.4" x2="39.9" y1="482.12" y2="482.12" stroke="#555" stroke-width="0.4"/>
<text x="38.1" y="484.12" font-size="5.6" fill="#555555" text-anchor="end" stroke="#555555" stroke-width="0.18">0.1</text>
<line x1="38.4" x2="39.9" y1="452.44" y2="452.44" stroke="#555" stroke-width="0.4"/>
<text x="38.1" y="454.44" font-size="5.6" fill="#555555" text-anchor="end" stroke="#555555" stroke-width="0.18">0.2</text>
<line x1="38.4" x2="39.9" y1="422.76" y2="422.76" stroke="#555" stroke-width="0.4"/>
<text x="38.1" y="424.76" font-size="5.6" fill="#555555" text-anchor="end" stroke="#555555" stroke-width="0.18">0.3</text>
<line x1="38.4" x2="39.9" y1="393.08" y2="393.08" stroke="#555" stroke-width="0.4"/>
<text x="38.1" y="395.08" font-size="5.6" fill="#555555" text-anchor="end" stroke="#555555" stroke-width="0.18">0.4</text>
<line x1="46.50" x2="46.50" y1="526.7" y2="528.1" stroke="#555" stroke-width="0.4"/>
<text x="46.50" y="532.70" font-size="5.6" fill="#555555" text-anchor="middle" stroke="#555555" stroke-width="0.18">0</text>
<line x1="81.42" x2="81.42" y1="526.7" y2="528.1" stroke="#555" stroke-width="0.4"/>
<text x="81.42" y="532.70" font-size="5.6" fill="#555555" text-anchor="middle" stroke="#555555" stroke-width="0.18">5000</text>
<line x1="116.34" x2="116.34" y1="526.7" y2="528.1" stroke="#555" stroke-width="0.4"/>
<text x="116.34" y="532.70" font-size="5.6" fill="#555555" text-anchor="middle" stroke="#555555" stroke-width="0.18">10000</text>
<line x1="151.26" x2="151.26" y1="526.7" y2="528.1" stroke="#555" stroke-width="0.4"/>
<text x="151.26" y="532.70" font-size="5.6" fill="#555555" text-anchor="middle" stroke="#555555" stroke-width="0.18">15000</text>
<line x1="186.18" x2="186.18" y1="526.7" y2="528.1" stroke="#555" stroke-width="0.4"/>
<text x="186.18" y="532.70" font-size="5.6" fill="#555555" text-anchor="middle" stroke="#555555" stroke-width="0.18">20000</text>
<text x="116.8" y="542.7" font-size="7.9" fill="#1a1a1a" text-anchor="middle" stroke="#1a1a1a" stroke-width="0.18">rank</text>
<text transform="translate(19.6,450.2) rotate(-90)" font-size="8.8" fill="#1a1a1a" text-anchor="middle" stroke="#1a1a1a" stroke-width="0.18">Enrichment score</text>
<rect x="47" y="504.0" width="1" height="15.80" fill="#000" fill-opacity="0.93"/>
<rect x="48" y="504.0" width="1" height="15.80" fill="#000" fill-opacity="0.53"/>
<rect x="49" y="504.0" width="1" height="15.80" fill="#000" fill-opacity="0.80"/>
<rect x="50" y="504.0" width="1" height="15.80" fill="#000" fill-opacity="0.13"/>
<rect x="51" y="504.0" width="1" height="15.80" fill="#000" fill-opacity="0.27"/>
<rect x="52" y="504.0" width="1" height="15.80" fill="#000" fill-opacity="0.13"/>
<rect x="53" y="504.0" width="1" height="15.80" fill="#000" fill-opacity="0.80"/>
<rect x="54" y="504.0" width="1" height="15.80" fill="#000" fill-opacity="0.13"/>
<rect x="55" y="504.0" width="1" height="15.80" fill="#000" fill-opacity="0.27"/>
<rect x="56" y="504.0" width="1" height="15.80" fill="#000" fill-opacity="0.53"/>
<rect x="57" y="504.0" width="1" height="15.80" fill="#000" fill-opacity="0.40"/>
<rect x="58" y="504.0" width="1" height="15.80" fill="#000" fill-opacity="0.27"/>
<rect x="59" y="504.0" width="1" height="15.80" fill="#000" fill-opacity="1.00"/>
<rect x="61" y="504.0" width="1" height="15.80" fill="#000" fill-opacity="0.40"/>
<rect x="62" y="504.0" width="1" height="15.80" fill="#000" fill-opacity="0.93"/>
<rect x="63" y="504.0" width="1" height="15.80" fill="#000" fill-opacity="0.53"/>
<rect x="64" y="504.0" width="1" height="15.80" fill="#000" fill-opacity="0.53"/>
<rect x="65" y="504.0" width="1" height="15.80" fill="#000" fill-opacity="0.67"/>
<rect x="66" y="504.0" width="1" height="15.80" fill="#000" fill-opacity="0.53"/>
<rect x="67" y="504.0" width="1" height="15.80" fill="#000" fill-opacity="0.40"/>
<rect x="68" y="504.0" width="1" height="15.80" fill="#000" fill-opacity="0.27"/>
<rect x="69" y="504.0" width="1" height="15.80" fill="#000" fill-opacity="0.53"/>
<rect x="70" y="504.0" width="1" height="15.80" fill="#000" fill-opacity="0.40"/>
<rect x="71" y="504.0" width="1" height="15.80" fill="#000" fill-opacity="0.93"/>
<rect x="72" y="504.0" width="1" height="15.80" fill="#000" fill-opacity="0.67"/>
<rect x="73" y="504.0" width="1" height="15.80" fill="#000" fill-opacity="0.80"/>
<rect x="74" y="504.0" width="1" height="15.80" fill="#000" fill-opacity="0.67"/>
<rect x="75" y="504.0" width="1" height="15.80" fill="#000" fill-opacity="1.00"/>
<rect x="76" y="504.0" width="1" height="15.80" fill="#000" fill-opacity="0.80"/>
<rect x="77" y="504.0" width="1" height="15.80" fill="#000" fill-opacity="0.27"/>
<rect x="78" y="504.0" width="1" height="15.80" fill="#000" fill-opacity="0.93"/>
<rect x="79" y="504.0" width="1" height="15.80" fill="#000" fill-opacity="0.53"/>
<rect x="80" y="504.0" width="1" height="15.80" fill="#000" fill-opacity="0.40"/>
<rect x="81" y="504.0" width="1" height="15.80" fill="#000" fill-opacity="0.80"/>
<rect x="82" y="504.0" width="1" height="15.80" fill="#000" fill-opacity="1.00"/>
<rect x="83" y="504.0" width="1" height="15.80" fill="#000" fill-opacity="0.13"/>
<rect x="84" y="504.0" width="1" height="15.80" fill="#000" fill-opacity="0.67"/>
<rect x="85" y="504.0" width="1" height="15.80" fill="#000" fill-opacity="0.67"/>
<rect x="86" y="504.0" width="1" height="15.80" fill="#000" fill-opacity="0.67"/>
<rect x="87" y="504.0" width="1" height="15.80" fill="#000" fill-opacity="0.67"/>
<rect x="88" y="504.0" width="1" height="15.80" fill="#000" fill-opacity="0.67"/>
<rect x="89" y="504.0" width="1" height="15.80" fill="#000" fill-opacity="0.53"/>
<rect x="90" y="504.0" width="1" height="15.80" fill="#000" fill-opacity="0.53"/>
<rect x="91" y="504.0" width="1" height="15.80" fill="#000" fill-opacity="0.67"/>
<rect x="92" y="504.0" width="1" height="15.80" fill="#000" fill-opacity="1.00"/>
<rect x="93" y="504.0" width="1" height="15.80" fill="#000" fill-opacity="0.13"/>
<rect x="94" y="504.0" width="1" height="15.80" fill="#000" fill-opacity="0.40"/>
<rect x="95" y="504.0" width="1" height="15.80" fill="#000" fill-opacity="0.53"/>
<rect x="96" y="504.0" width="1" height="15.80" fill="#000" fill-opacity="0.27"/>
<rect x="97" y="504.0" width="1" height="15.80" fill="#000" fill-opacity="0.53"/>
<rect x="98" y="504.0" width="1" height="15.80" fill="#000" fill-opacity="0.40"/>
<rect x="99" y="504.0" width="1" height="15.80" fill="#000" fill-opacity="0.53"/>
<rect x="100" y="504.0" width="1" height="15.80" fill="#000" fill-opacity="0.53"/>
<rect x="101" y="504.0" width="1" height="15.80" fill="#000" fill-opacity="0.27"/>
<rect x="102" y="504.0" width="1" height="15.80" fill="#000" fill-opacity="1.00"/>
<rect x="103" y="504.0" width="1" height="15.80" fill="#000" fill-opacity="0.13"/>
<rect x="104" y="504.0" width="1" height="15.80" fill="#000" fill-opacity="0.13"/>
<rect x="107" y="504.0" width="1" height="15.80" fill="#000" fill-opacity="0.27"/>
<rect x="108" y="504.0" width="1" height="15.80" fill="#000" fill-opacity="0.27"/>
<rect x="109" y="504.0" width="1" height="15.80" fill="#000" fill-opacity="0.13"/>
<rect x="110" y="504.0" width="1" height="15.80" fill="#000" fill-opacity="0.13"/>
<rect x="111" y="504.0" width="1" height="15.80" fill="#000" fill-opacity="0.67"/>
<rect x="112" y="504.0" width="1" height="15.80" fill="#000" fill-opacity="0.53"/>
<rect x="113" y="504.0" width="1" height="15.80" fill="#000" fill-opacity="0.67"/>
<rect x="114" y="504.0" width="1" height="15.80" fill="#000" fill-opacity="0.93"/>
<rect x="115" y="504.0" width="1" height="15.80" fill="#000" fill-opacity="0.53"/>
<rect x="116" y="504.0" width="1" height="15.80" fill="#000" fill-opacity="0.80"/>
<rect x="117" y="504.0" width="1" height="15.80" fill="#000" fill-opacity="0.40"/>
<rect x="118" y="504.0" width="1" height="15.80" fill="#000" fill-opacity="0.53"/>
<rect x="119" y="504.0" width="1" height="15.80" fill="#000" fill-opacity="0.27"/>
<rect x="120" y="504.0" width="1" height="15.80" fill="#000" fill-opacity="0.13"/>
<rect x="121" y="504.0" width="1" height="15.80" fill="#000" fill-opacity="0.53"/>
<rect x="122" y="504.0" width="1" height="15.80" fill="#000" fill-opacity="0.67"/>
<rect x="123" y="504.0" width="1" height="15.80" fill="#000" fill-opacity="0.53"/>
<rect x="124" y="504.0" width="1" height="15.80" fill="#000" fill-opacity="0.93"/>
<rect x="125" y="504.0" width="1" height="15.80" fill="#000" fill-opacity="1.00"/>
<rect x="126" y="504.0" width="1" height="15.80" fill="#000" fill-opacity="0.53"/>
<rect x="127" y="504.0" width="1" height="15.80" fill="#000" fill-opacity="0.27"/>
<rect x="128" y="504.0" width="1" height="15.80" fill="#000" fill-opacity="0.53"/>
<rect x="129" y="504.0" width="1" height="15.80" fill="#000" fill-opacity="0.67"/>
<rect x="130" y="504.0" width="1" height="15.80" fill="#000" fill-opacity="0.27"/>
<rect x="131" y="504.0" width="1" height="15.80" fill="#000" fill-opacity="0.53"/>
<rect x="132" y="504.0" width="1" height="15.80" fill="#000" fill-opacity="0.80"/>
<rect x="133" y="504.0" width="1" height="15.80" fill="#000" fill-opacity="0.53"/>
<rect x="134" y="504.0" width="1" height="15.80" fill="#000" fill-opacity="0.27"/>
<rect x="135" y="504.0" width="1" height="15.80" fill="#000" fill-opacity="0.40"/>
<rect x="136" y="504.0" width="1" height="15.80" fill="#000" fill-opacity="1.00"/>
<rect x="137" y="504.0" width="1" height="15.80" fill="#000" fill-opacity="0.13"/>
<rect x="138" y="504.0" width="1" height="15.80" fill="#000" fill-opacity="0.67"/>
<rect x="139" y="504.0" width="1" height="15.80" fill="#000" fill-opacity="0.53"/>
<rect x="140" y="504.0" width="1" height="15.80" fill="#000" fill-opacity="0.53"/>
<rect x="141" y="504.0" width="1" height="15.80" fill="#000" fill-opacity="0.53"/>
<rect x="142" y="504.0" width="1" height="15.80" fill="#000" fill-opacity="0.13"/>
<rect x="143" y="504.0" width="1" height="15.80" fill="#000" fill-opacity="0.40"/>
<rect x="144" y="504.0" width="1" height="15.80" fill="#000" fill-opacity="0.93"/>
<rect x="145" y="504.0" width="1" height="15.80" fill="#000" fill-opacity="0.40"/>
<rect x="146" y="504.0" width="1" height="15.80" fill="#000" fill-opacity="0.67"/>
<rect x="147" y="504.0" width="1" height="15.80" fill="#000" fill-opacity="0.27"/>
<rect x="148" y="504.0" width="1" height="15.80" fill="#000" fill-opacity="0.80"/>
<rect x="149" y="504.0" width="1" height="15.80" fill="#000" fill-opacity="0.93"/>
<rect x="150" y="504.0" width="1" height="15.80" fill="#000" fill-opacity="1.00"/>
<rect x="151" y="504.0" width="1" height="15.80" fill="#000" fill-opacity="0.80"/>
<rect x="152" y="504.0" width="1" height="15.80" fill="#000" fill-opacity="0.67"/>
<rect x="153" y="504.0" width="1" height="15.80" fill="#000" fill-opacity="0.67"/>
<rect x="154" y="504.0" width="1" height="15.80" fill="#000" fill-opacity="0.53"/>
<rect x="155" y="504.0" width="1" height="15.80" fill="#000" fill-opacity="0.80"/>
<rect x="156" y="504.0" width="1" height="15.80" fill="#000" fill-opacity="0.67"/>
<rect x="157" y="504.0" width="1" height="15.80" fill="#000" fill-opacity="0.80"/>
<rect x="167" y="504.0" width="1" height="15.80" fill="#000" fill-opacity="0.80"/>
<rect x="168" y="504.0" width="1" height="15.80" fill="#000" fill-opacity="0.53"/>
<rect x="169" y="504.0" width="1" height="15.80" fill="#000" fill-opacity="0.40"/>
<rect x="170" y="504.0" width="1" height="15.80" fill="#000" fill-opacity="0.80"/>
<rect x="171" y="504.0" width="1" height="15.80" fill="#000" fill-opacity="0.27"/>
<rect x="172" y="504.0" width="1" height="15.80" fill="#000" fill-opacity="1.00"/>
<rect x="173" y="504.0" width="1" height="15.80" fill="#000" fill-opacity="0.93"/>
<rect x="174" y="504.0" width="1" height="15.80" fill="#000" fill-opacity="0.27"/>
<rect x="175" y="504.0" width="1" height="15.80" fill="#000" fill-opacity="0.40"/>
<rect x="176" y="504.0" width="1" height="15.80" fill="#000" fill-opacity="0.67"/>
<rect x="177" y="504.0" width="1" height="15.80" fill="#000" fill-opacity="0.13"/>
<rect x="178" y="504.0" width="1" height="15.80" fill="#000" fill-opacity="0.53"/>
<rect x="179" y="504.0" width="1" height="15.80" fill="#000" fill-opacity="0.53"/>
<rect x="180" y="504.0" width="1" height="15.80" fill="#000" fill-opacity="0.53"/>
<rect x="181" y="504.0" width="1" height="15.80" fill="#000" fill-opacity="0.80"/>
<line x1="39.9" x2="193.7" y1="511.80" y2="511.80" stroke="#222" stroke-width="0.6"/>
<line x1="39.9" x2="193.7" y1="385.2" y2="385.2" stroke="#f28a8a" stroke-width="1.0" stroke-dasharray="5.7 5.25"/>
<line x1="39.9" x2="193.7" y1="512.4" y2="512.4" stroke="#f28a8a" stroke-width="1.0" stroke-dasharray="5.7 5.25"/>
<polyline points="47.6,510.3 47.6,509.3 47.7,508.3 47.7,507.3 47.8,506.2 47.8,505.2 47.8,503.4 47.9,502.6 47.9,501.7 48.0,500.8 48.0,499.1 48.0,497.4 48.1,496.9 48.1,495.6 48.1,493.7 48.2,493.3 48.2,491.5 48.3,490.2 48.3,489.7 49.4,491.3 50.5,492.2 51.7,492.5 53.0,492.6 54.2,491.2 55.1,491.2 56.0,491.0 56.9,489.4 57.8,489.4 58.0,488.8 58.3,488.0 58.5,486.4 58.7,485.3 59.0,484.0 59.2,483.3 59.4,481.5 59.6,481.0 59.9,480.3 60.1,479.5 60.6,478.8 61.1,478.0 61.5,477.1 62.0,476.3 62.5,474.0 62.6,472.3 62.7,471.9 62.8,470.2 62.9,469.8 63.0,469.3 63.1,468.3 63.1,466.3 63.2,464.7 63.3,464.5 63.4,464.1 63.5,463.5 63.6,462.8 63.7,462.0 64.4,461.4 65.1,459.5 65.8,459.2 66.5,458.7 67.5,457.0 68.6,456.3 69.6,456.3 69.8,455.7 70.1,454.9 70.3,454.1 70.5,453.1 70.8,452.2 71.0,451.2 71.2,449.8 71.4,447.8 71.7,447.1 71.9,446.0 72.0,445.3 72.1,444.4 72.2,443.5 72.3,441.6 72.4,440.8 72.6,440.0 72.7,439.1 72.8,436.9 72.9,435.4 73.0,434.9 73.1,433.1 73.3,432.8 73.6,432.2 73.8,431.6 74.1,430.0 74.3,428.2 74.6,427.0 74.8,426.7 75.1,426.2 75.3,425.6 75.6,424.8 75.8,424.0 76.0,423.2 76.3,422.3 76.5,420.6 76.8,419.2 77.0,418.6 77.3,417.9 77.5,417.1 77.8,416.3 78.0,415.4 78.3,413.9 78.5,413.1 78.8,412.3 79.0,411.4 79.2,410.5 79.5,409.5 79.7,408.5 79.9,407.5 80.1,406.5 80.3,405.5 80.6,404.4 80.8,402.6 81.0,401.8 81.2,400.9 81.5,398.6 81.7,398.1 81.9,397.4 82.1,395.6 82.4,394.0 82.6,393.6 83.2,393.1 83.8,392.5 84.4,391.9 84.9,391.2 85.5,390.4 86.1,389.6 86.7,388.8 87.3,387.9 88.5,387.5 89.7,387.2 90.9,386.8 91.8,387.3 92.8,387.8 93.7,388.2 94.7,388.7 95.6,388.0 96.6,388.8 97.6,389.6 98.6,390.3 99.7,390.9 100.7,391.5 101.7,390.9 102.7,391.7 103.4,392.8 104.0,393.8 104.7,394.7 105.3,395.6 106.0,396.5 106.6,397.3 107.3,397.7 107.9,398.6 108.6,399.5 109.2,399.4 109.9,400.6 110.5,400.9 111.2,401.8 111.8,402.5 112.5,403.3 113.1,403.8 113.8,405.2 114.4,406.5 115.1,407.7 115.7,407.4 116.2,408.1 116.7,408.9 117.1,409.2 117.6,410.9 118.1,411.4 118.6,412.1 119.0,413.8 119.5,415.3 120.0,416.6 120.5,417.8 121.0,418.9 121.5,419.9 122.0,420.9 122.5,421.8 123.0,421.8 123.5,423.0 124.0,424.1 124.5,425.1 125.0,426.1 125.5,427.0 126.0,428.0 126.6,428.5 127.1,429.5 127.6,430.5 128.1,430.4 128.6,431.6 129.1,432.8 129.6,433.8 130.1,434.2 130.6,435.3 131.1,436.4 131.6,437.4 132.1,438.4 132.6,439.3 133.0,438.9 133.4,440.3 133.8,441.5 134.2,442.7 134.6,443.8 135.0,444.8 135.4,445.0 135.8,445.2 136.2,446.7 136.6,446.8 137.0,448.3 137.4,448.7 137.9,448.8 138.4,450.6 138.9,451.4 139.4,451.5 139.9,452.3 140.4,454.0 141.0,455.6 141.5,457.0 142.0,458.2 142.5,458.2 143.0,459.6 143.5,460.9 144.0,462.1 144.5,462.2 145.1,463.5 145.6,464.6 146.2,465.7 146.7,466.7 147.2,467.1 147.8,468.2 148.3,469.2 148.9,470.2 149.4,471.2 150.4,470.4 151.3,471.2 152.3,471.8 153.3,472.4 154.2,472.9 155.2,473.4 156.2,473.8 157.1,474.2 158.1,474.6 158.5,475.6 158.9,475.9 159.3,477.0 159.6,476.8 160.0,478.2 160.4,479.4 160.8,479.4 161.2,480.8 161.6,481.3 161.9,482.7 162.3,484.0 162.7,485.2 163.1,485.3 163.5,486.6 163.9,487.3 164.3,488.6 164.6,489.8 165.0,490.9 165.4,490.8 165.8,492.2 166.6,493.1 167.4,493.9 168.2,493.4 169.1,493.4 169.9,494.6 170.7,495.7 171.5,496.0 172.3,497.0 173.2,496.7 174.1,497.7 175.0,497.5 175.9,498.1 176.8,499.0 177.6,499.5 178.5,500.3 179.4,501.0 180.3,501.6 181.2,501.4 182.1,502.2 182.6,503.4 183.0,504.6 183.5,505.7 183.9,506.7 184.4,506.7 184.9,507.0 185.3,508.5 185.8,509.9 186.2,511.1 186.7,511.9" fill="none" stroke="#10f010" stroke-width="1.0" stroke-linejoin="round"/>
<text x="70.8" y="484.5" font-size="8.8" fill="#1a1a1a" stroke="#1a1a1a" stroke-width="0.18">FDR &lt; 0.001</text>
<text x="70.8" y="494.80" font-size="8.8" fill="#1a1a1a" stroke="#1a1a1a" stroke-width="0.18">NES = 1.93</text>
<text x="212.0" y="378.8" font-size="12.5" font-weight="bold" fill="#111">E</text>
<text x="283.5" y="376.6" font-size="8.9" fill="#111" stroke="#111" stroke-width="0.18">Interferon α response</text>
<line x1="250.9" x2="402.1" y1="511.20" y2="511.20" stroke="#ececec" stroke-width="0.55"/>
<line x1="250.9" x2="402.1" y1="486.60" y2="486.60" stroke="#ececec" stroke-width="0.55"/>
<line x1="250.9" x2="402.1" y1="462.00" y2="462.00" stroke="#ececec" stroke-width="0.55"/>
<line x1="250.9" x2="402.1" y1="437.40" y2="437.40" stroke="#ececec" stroke-width="0.55"/>
<line x1="250.9" x2="402.1" y1="412.80" y2="412.80" stroke="#ececec" stroke-width="0.55"/>
<line x1="250.9" x2="402.1" y1="388.20" y2="388.20" stroke="#ececec" stroke-width="0.55"/>
<line x1="258.20" x2="258.20" y1="377.13" y2="521.40" stroke="#ececec" stroke-width="0.55"/>
<line x1="292.45" x2="292.45" y1="377.13" y2="521.40" stroke="#ececec" stroke-width="0.55"/>
<line x1="326.70" x2="326.70" y1="377.13" y2="521.40" stroke="#ececec" stroke-width="0.55"/>
<line x1="360.95" x2="360.95" y1="377.13" y2="521.40" stroke="#ececec" stroke-width="0.55"/>
<line x1="395.20" x2="395.20" y1="377.13" y2="521.40" stroke="#ececec" stroke-width="0.55"/>
<line x1="249.4" x2="250.9" y1="511.20" y2="511.20" stroke="#555" stroke-width="0.4"/>
<text x="249.1" y="513.20" font-size="5.6" fill="#555555" text-anchor="end" stroke="#555555" stroke-width="0.18">0.0</text>
<line x1="249.4" x2="250.9" y1="486.60" y2="486.60" stroke="#555" stroke-width="0.4"/>
<text x="249.1" y="488.60" font-size="5.6" fill="#555555" text-anchor="end" stroke="#555555" stroke-width="0.18">0.1</text>
<line x1="249.4" x2="250.9" y1="462.00" y2="462.00" stroke="#555" stroke-width="0.4"/>
<text x="249.1" y="464.00" font-size="5.6" fill="#555555" text-anchor="end" stroke="#555555" stroke-width="0.18">0.2</text>
<line x1="249.4" x2="250.9" y1="437.40" y2="437.40" stroke="#555" stroke-width="0.4"/>
<text x="249.1" y="439.40" font-size="5.6" fill="#555555" text-anchor="end" stroke="#555555" stroke-width="0.18">0.3</text>
<line x1="249.4" x2="250.9" y1="412.80" y2="412.80" stroke="#555" stroke-width="0.4"/>
<text x="249.1" y="414.80" font-size="5.6" fill="#555555" text-anchor="end" stroke="#555555" stroke-width="0.18">0.4</text>
<line x1="249.4" x2="250.9" y1="388.20" y2="388.20" stroke="#555" stroke-width="0.4"/>
<text x="249.1" y="390.20" font-size="5.6" fill="#555555" text-anchor="end" stroke="#555555" stroke-width="0.18">0.5</text>
<line x1="258.20" x2="258.20" y1="526.1" y2="527.5" stroke="#555" stroke-width="0.4"/>
<text x="258.20" y="532.10" font-size="5.6" fill="#555555" text-anchor="middle" stroke="#555555" stroke-width="0.18">0</text>
<line x1="292.45" x2="292.45" y1="526.1" y2="527.5" stroke="#555" stroke-width="0.4"/>
<text x="292.45" y="532.10" font-size="5.6" fill="#555555" text-anchor="middle" stroke="#555555" stroke-width="0.18">5000</text>
<line x1="326.70" x2="326.70" y1="526.1" y2="527.5" stroke="#555" stroke-width="0.4"/>
<text x="326.70" y="532.10" font-size="5.6" fill="#555555" text-anchor="middle" stroke="#555555" stroke-width="0.18">10000</text>
<line x1="360.95" x2="360.95" y1="526.1" y2="527.5" stroke="#555" stroke-width="0.4"/>
<text x="360.95" y="532.10" font-size="5.6" fill="#555555" text-anchor="middle" stroke="#555555" stroke-width="0.18">15000</text>
<line x1="395.20" x2="395.20" y1="526.1" y2="527.5" stroke="#555" stroke-width="0.4"/>
<text x="395.20" y="532.10" font-size="5.6" fill="#555555" text-anchor="middle" stroke="#555555" stroke-width="0.18">20000</text>
<text x="327.6" y="543.3" font-size="7.9" fill="#1a1a1a" text-anchor="middle" stroke="#1a1a1a" stroke-width="0.18">rank</text>
<text transform="translate(225.6,451.6) rotate(-90)" font-size="8.8" fill="#1a1a1a" text-anchor="middle" stroke="#1a1a1a" stroke-width="0.18">Enrichment score</text>
<rect x="258" y="503.0" width="1" height="16.40" fill="#000" fill-opacity="0.13"/>
<rect x="259" y="503.0" width="1" height="16.40" fill="#000" fill-opacity="0.80"/>
<rect x="260" y="503.0" width="1" height="16.40" fill="#000" fill-opacity="0.53"/>
<rect x="261" y="503.0" width="1" height="16.40" fill="#000" fill-opacity="0.40"/>
<rect x="262" y="503.0" width="1" height="16.40" fill="#000" fill-opacity="0.93"/>
<rect x="263" y="503.0" width="1" height="16.40" fill="#000" fill-opacity="0.67"/>
<rect x="264" y="503.0" width="1" height="16.40" fill="#000" fill-opacity="0.80"/>
<rect x="265" y="503.0" width="1" height="16.40" fill="#000" fill-opacity="0.67"/>
<rect x="266" y="503.0" width="1" height="16.40" fill="#000" fill-opacity="1.00"/>
<rect x="267" y="503.0" width="1" height="16.40" fill="#000" fill-opacity="0.27"/>
<rect x="268" y="503.0" width="1" height="16.40" fill="#000" fill-opacity="0.53"/>
<rect x="269" y="503.0" width="1" height="16.40" fill="#000" fill-opacity="0.67"/>
<rect x="270" y="503.0" width="1" height="16.40" fill="#000" fill-opacity="0.67"/>
<rect x="271" y="503.0" width="1" height="16.40" fill="#000" fill-opacity="0.53"/>
<rect x="272" y="503.0" width="1" height="16.40" fill="#000" fill-opacity="0.27"/>
<rect x="273" y="503.0" width="1" height="16.40" fill="#000" fill-opacity="0.40"/>
<rect x="274" y="503.0" width="1" height="16.40" fill="#000" fill-opacity="0.40"/>
<rect x="275" y="503.0" width="1" height="16.40" fill="#000" fill-opacity="0.53"/>
<rect x="276" y="503.0" width="1" height="16.40" fill="#000" fill-opacity="0.53"/>
<rect x="277" y="503.0" width="1" height="16.40" fill="#000" fill-opacity="0.80"/>
<rect x="278" y="503.0" width="1" height="16.40" fill="#000" fill-opacity="0.67"/>
<rect x="279" y="503.0" width="1" height="16.40" fill="#000" fill-opacity="0.80"/>
<rect x="281" y="503.0" width="1" height="16.40" fill="#000" fill-opacity="0.53"/>
<rect x="282" y="503.0" width="1" height="16.40" fill="#000" fill-opacity="0.80"/>
<rect x="283" y="503.0" width="1" height="16.40" fill="#000" fill-opacity="0.13"/>
<rect x="284" y="503.0" width="1" height="16.40" fill="#000" fill-opacity="0.53"/>
<rect x="285" y="503.0" width="1" height="16.40" fill="#000" fill-opacity="0.67"/>
<rect x="286" y="503.0" width="1" height="16.40" fill="#000" fill-opacity="0.53"/>
<rect x="287" y="503.0" width="1" height="16.40" fill="#000" fill-opacity="0.53"/>
<rect x="288" y="503.0" width="1" height="16.40" fill="#000" fill-opacity="0.93"/>
<rect x="289" y="503.0" width="1" height="16.40" fill="#000" fill-opacity="0.67"/>
<rect x="290" y="503.0" width="1" height="16.40" fill="#000" fill-opacity="0.27"/>
<rect x="291" y="503.0" width="1" height="16.40" fill="#000" fill-opacity="0.53"/>
<rect x="292" y="503.0" width="1" height="16.40" fill="#000" fill-opacity="0.13"/>
<rect x="293" y="503.0" width="1" height="16.40" fill="#000" fill-opacity="0.27"/>
<rect x="294" y="503.0" width="1" height="16.40" fill="#000" fill-opacity="0.13"/>
<rect x="295" y="503.0" width="1" height="16.40" fill="#000" fill-opacity="0.67"/>
<rect x="296" y="503.0" width="1" height="16.40" fill="#000" fill-opacity="0.80"/>
<rect x="297" y="503.0" width="1" height="16.40" fill="#000" fill-opacity="0.13"/>
<rect x="298" y="503.0" width="1" height="16.40" fill="#000" fill-opacity="0.53"/>
<rect x="299" y="503.0" width="1" height="16.40" fill="#000" fill-opacity="0.67"/>
<rect x="300" y="503.0" width="1" height="16.40" fill="#000" fill-opacity="0.53"/>
<rect x="301" y="503.0" width="1" height="16.40" fill="#000" fill-opacity="0.13"/>
<rect x="302" y="503.0" width="1" height="16.40" fill="#000" fill-opacity="0.80"/>
<rect x="303" y="503.0" width="1" height="16.40" fill="#000" fill-opacity="0.53"/>
<rect x="304" y="503.0" width="1" height="16.40" fill="#000" fill-opacity="0.13"/>
<rect x="305" y="503.0" width="1" height="16.40" fill="#000" fill-opacity="0.53"/>
<rect x="306" y="503.0" width="1" height="16.40" fill="#000" fill-opacity="0.80"/>
<rect x="307" y="503.0" width="1" height="16.40" fill="#000" fill-opacity="0.67"/>
<rect x="308" y="503.0" width="1" height="16.40" fill="#000" fill-opacity="0.80"/>
<rect x="309" y="503.0" width="1" height="16.40" fill="#000" fill-opacity="0.40"/>
<rect x="310" y="503.0" width="1" height="16.40" fill="#000" fill-opacity="0.27"/>
<rect x="317" y="503.0" width="1" height="16.40" fill="#000" fill-opacity="0.67"/>
<rect x="318" y="503.0" width="1" height="16.40" fill="#000" fill-opacity="0.13"/>
<rect x="320" y="503.0" width="1" height="16.40" fill="#000" fill-opacity="0.27"/>
<rect x="321" y="503.0" width="1" height="16.40" fill="#000" fill-opacity="0.80"/>
<rect x="322" y="503.0" width="1" height="16.40" fill="#000" fill-opacity="0.53"/>
<rect x="323" y="503.0" width="1" height="16.40" fill="#000" fill-opacity="0.40"/>
<rect x="324" y="503.0" width="1" height="16.40" fill="#000" fill-opacity="0.53"/>
<rect x="325" y="503.0" width="1" height="16.40" fill="#000" fill-opacity="0.13"/>
<rect x="326" y="503.0" width="1" height="16.40" fill="#000" fill-opacity="0.27"/>
<rect x="327" y="503.0" width="1" height="16.40" fill="#000" fill-opacity="0.80"/>
<rect x="328" y="503.0" width="1" height="16.40" fill="#000" fill-opacity="0.53"/>
<rect x="329" y="503.0" width="1" height="16.40" fill="#000" fill-opacity="0.80"/>
<rect x="330" y="503.0" width="1" height="16.40" fill="#000" fill-opacity="0.80"/>
<rect x="331" y="503.0" width="1" height="16.40" fill="#000" fill-opacity="0.13"/>
<rect x="333" y="503.0" width="1" height="16.40" fill="#000" fill-opacity="0.27"/>
<rect x="334" y="503.0" width="1" height="16.40" fill="#000" fill-opacity="0.67"/>
<rect x="335" y="503.0" width="1" height="16.40" fill="#000" fill-opacity="0.27"/>
<rect x="336" y="503.0" width="1" height="16.40" fill="#000" fill-opacity="0.53"/>
<rect x="337" y="503.0" width="1" height="16.40" fill="#000" fill-opacity="0.53"/>
<rect x="338" y="503.0" width="1" height="16.40" fill="#000" fill-opacity="0.13"/>
<rect x="340" y="503.0" width="1" height="16.40" fill="#000" fill-opacity="0.27"/>
<rect x="341" y="503.0" width="1" height="16.40" fill="#000" fill-opacity="0.80"/>
<rect x="342" y="503.0" width="1" height="16.40" fill="#000" fill-opacity="0.13"/>
<rect x="347" y="503.0" width="1" height="16.40" fill="#000" fill-opacity="0.53"/>
<rect x="351" y="503.0" width="1" height="16.40" fill="#000" fill-opacity="0.13"/>
<rect x="352" y="503.0" width="1" height="16.40" fill="#000" fill-opacity="0.80"/>
<rect x="353" y="503.0" width="1" height="16.40" fill="#000" fill-opacity="0.13"/>
<rect x="354" y="503.0" width="1" height="16.40" fill="#000" fill-opacity="0.13"/>
<rect x="355" y="503.0" width="1" height="16.40" fill="#000" fill-opacity="0.53"/>
<rect x="356" y="503.0" width="1" height="16.40" fill="#000" fill-opacity="0.53"/>
<rect x="357" y="503.0" width="1" height="16.40" fill="#000" fill-opacity="0.67"/>
<rect x="358" y="503.0" width="1" height="16.40" fill="#000" fill-opacity="0.80"/>
<rect x="359" y="503.0" width="1" height="16.40" fill="#000" fill-opacity="0.13"/>
<rect x="364" y="503.0" width="1" height="16.40" fill="#000" fill-opacity="0.67"/>
<rect x="365" y="503.0" width="1" height="16.40" fill="#000" fill-opacity="0.80"/>
<rect x="366" y="503.0" width="1" height="16.40" fill="#000" fill-opacity="0.40"/>
<rect x="378" y="503.0" width="1" height="16.40" fill="#000" fill-opacity="0.27"/>
<rect x="379" y="503.0" width="1" height="16.40" fill="#000" fill-opacity="0.40"/>
<rect x="380" y="503.0" width="1" height="16.40" fill="#000" fill-opacity="0.13"/>
<rect x="381" y="503.0" width="1" height="16.40" fill="#000" fill-opacity="0.40"/>
<rect x="382" y="503.0" width="1" height="16.40" fill="#000" fill-opacity="1.00"/>
<rect x="383" y="503.0" width="1" height="16.40" fill="#000" fill-opacity="0.40"/>
<rect x="389" y="503.0" width="1" height="16.40" fill="#000" fill-opacity="0.27"/>
<rect x="390" y="503.0" width="1" height="16.40" fill="#000" fill-opacity="0.67"/>
<line x1="250.9" x2="402.1" y1="511.20" y2="511.20" stroke="#222" stroke-width="0.6"/>
<line x1="250.9" x2="402.1" y1="387.1" y2="387.1" stroke="#f28a8a" stroke-width="1.0" stroke-dasharray="5.7 5.25"/>
<line x1="250.9" x2="402.1" y1="514.5" y2="514.5" stroke="#f28a8a" stroke-width="1.0" stroke-dasharray="5.7 5.25"/>
<polyline points="259.8,511.9 259.9,510.9 259.9,508.6 260.0,507.1 260.1,506.6 260.1,505.0 260.2,504.5 260.3,503.2 260.4,502.7 260.4,502.0 260.5,501.2 260.6,499.8 260.6,498.2 260.7,497.7 260.8,497.0 260.9,496.2 260.9,495.4 261.0,494.5 261.1,493.0 261.1,492.2 261.2,491.4 261.3,490.5 261.3,489.0 261.4,487.6 261.5,486.9 261.5,484.8 261.6,484.4 261.7,483.0 261.8,482.5 261.8,481.1 261.9,480.5 262.0,478.9 262.1,477.4 262.3,477.1 262.4,476.2 262.5,474.7 262.6,473.9 262.8,473.4 262.9,472.8 263.0,472.0 263.1,471.2 263.3,470.3 263.4,468.5 263.5,466.8 263.6,466.3 263.8,464.8 263.9,464.3 264.0,463.1 264.1,462.5 264.3,461.8 264.4,459.9 264.5,459.4 264.7,457.8 264.8,456.6 265.0,456.2 265.2,455.6 265.3,454.9 265.5,453.5 265.7,452.8 265.8,452.1 266.0,451.3 266.2,450.4 266.3,449.5 266.5,448.6 266.7,446.5 266.8,445.8 267.0,445.1 267.2,443.5 267.3,442.9 267.5,441.2 267.7,439.5 267.8,438.0 268.0,437.8 268.2,437.4 268.3,436.8 268.5,435.0 268.7,434.5 268.9,432.5 269.1,432.1 269.2,431.5 269.4,430.9 269.6,430.1 269.8,429.2 270.0,427.0 270.2,426.1 270.4,425.5 270.5,423.4 270.7,422.9 270.9,422.3 271.1,421.3 272.1,420.2 273.1,419.9 274.1,419.6 275.1,419.1 275.6,417.3 276.1,416.2 276.7,415.6 277.2,414.8 277.7,413.1 277.9,412.4 278.1,411.5 278.4,410.6 278.6,409.7 278.8,407.6 279.0,406.8 280.0,406.8 281.0,406.7 282.0,406.1 283.0,406.0 283.6,406.1 284.3,406.3 285.0,407.7 285.6,408.4 286.5,408.1 287.4,407.6 288.3,406.2 288.4,405.6 288.5,404.8 288.7,404.0 288.8,401.7 288.9,401.1 289.0,400.4 289.1,399.6 289.2,398.7 289.4,397.8 289.5,395.8 289.6,395.1 290.2,394.4 290.9,393.5 291.6,392.7 292.2,390.7 293.3,391.3 294.3,391.8 295.4,392.3 296.4,391.7 297.5,392.4 298.6,392.4 299.6,391.1 300.7,391.3 301.7,391.4 302.8,391.4 303.8,390.0 304.7,389.9 305.7,389.7 306.7,389.4 307.6,388.5 308.6,388.2 309.2,388.9 309.8,390.0 310.4,391.1 311.0,392.1 311.5,391.9 312.1,393.2 312.7,394.4 313.3,394.1 314.1,395.4 314.8,396.5 315.6,397.5 316.3,398.5 317.1,398.7 317.8,398.5 318.6,399.3 319.3,400.2 319.9,401.5 320.6,402.6 321.2,403.6 321.9,404.6 322.6,405.5 323.2,406.4 323.9,407.2 324.5,408.1 325.2,408.3 325.8,409.3 326.5,409.4 327.1,410.5 327.6,411.2 328.2,412.3 328.7,412.8 329.3,413.9 329.8,414.9 330.4,415.6 331.0,416.0 331.5,417.2 332.1,418.2 332.6,419.2 333.2,420.2 333.8,421.1 334.3,422.0 334.9,422.9 335.4,423.7 336.0,423.9 336.5,424.0 337.1,425.2 337.5,426.5 338.0,427.6 338.4,428.7 338.9,429.1 339.3,430.3 339.8,431.4 340.2,432.4 340.6,433.4 341.1,433.7 341.5,434.8 342.0,435.0 342.4,435.2 342.9,436.7 343.3,437.1 343.8,438.6 344.2,439.9 344.8,441.1 345.3,442.1 345.9,443.1 346.4,444.1 347.0,444.1 347.5,445.2 348.1,445.4 348.6,446.6 349.2,447.8 349.7,448.8 350.3,449.8 350.8,450.8 351.4,450.6 351.9,450.9 352.5,451.9 353.0,453.2 353.6,453.9 354.3,454.7 355.0,455.9 355.7,457.1 356.3,458.1 357.0,459.1 357.7,460.0 358.4,460.9 359.0,460.8 359.6,462.0 360.2,462.5 360.8,463.7 361.4,463.9 361.9,465.2 362.5,466.4 363.1,466.5 363.7,467.0 364.3,468.5 364.9,469.8 365.5,471.0 366.0,472.1 366.6,472.7 367.1,473.9 367.7,474.9 368.2,475.3 368.8,476.5 369.3,477.6 369.9,478.7 370.4,479.7 371.0,480.7 371.5,481.2 372.1,482.2 372.6,483.3 373.1,483.8 373.7,483.9 374.2,485.2 374.7,485.8 375.3,487.0 375.8,488.1 376.4,489.1 376.9,490.1 377.4,491.1 378.0,492.0 378.5,492.9 379.1,492.6 379.6,493.9 380.2,495.0 380.8,496.1 381.6,495.5 382.4,494.8 383.2,494.0 383.6,495.1 384.0,495.4 384.4,496.6 384.8,497.7 385.2,498.8 385.6,499.0 386.5,500.0 387.5,501.0 388.4,501.9 389.4,502.7 390.3,503.2 390.9,504.2 391.5,505.3 392.1,505.0 392.7,505.9 393.3,506.9 393.9,508.2 394.5,509.4 395.1,510.5 395.7,511.0" fill="none" stroke="#10f010" stroke-width="1.0" stroke-linejoin="round"/>
<text x="269.0" y="483.6" font-size="8.8" fill="#1a1a1a" stroke="#1a1a1a" stroke-width="0.18">FDR &lt; 0.001</text>
<text x="269.0" y="493.90" font-size="8.8" fill="#1a1a1a" stroke="#1a1a1a" stroke-width="0.18">NES = 2.09</text>
<text x="6.5" y="14.5" font-size="12.5" font-weight="bold" fill="#111">A</text>
</svg>
</body></html>
